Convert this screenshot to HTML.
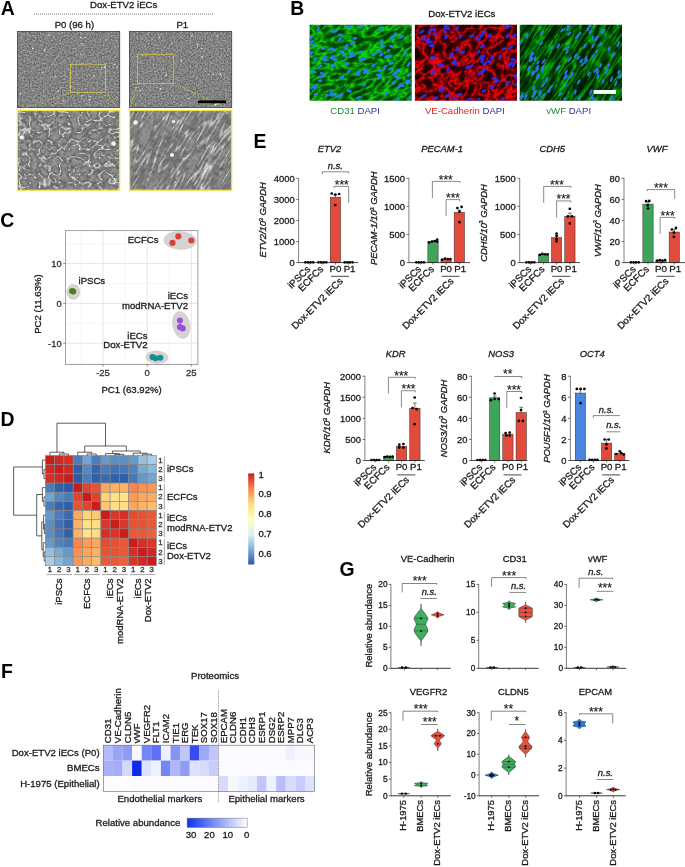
<!DOCTYPE html>
<html><head><meta charset="utf-8"><title>Figure</title>
<style>
html,body{margin:0;padding:0;background:#fff;}
body{width:685px;height:867px;overflow:hidden;}
svg{display:block;font-family:'Liberation Sans', Arial, Helvetica, sans-serif;}
</style></head><body>
<svg width="685" height="867" viewBox="0 0 685 867">
<rect width="685" height="867" fill="#fff"/>
<defs>
<filter id="fFine" x="0" y="0" width="100%" height="100%" color-interpolation-filters="sRGB">
  <feTurbulence type="fractalNoise" baseFrequency="0.62" numOctaves="2" seed="3" result="n"/>
  <feColorMatrix in="n" type="matrix" values="0 0.5 0 0 0.26  0 0.5 0 0 0.26  0 0.5 0 0 0.26  0 0 0 0 1"/>
</filter>
<filter id="fFine2" x="0" y="0" width="100%" height="100%" color-interpolation-filters="sRGB">
  <feTurbulence type="fractalNoise" baseFrequency="0.62" numOctaves="2" seed="11" result="n"/>
  <feColorMatrix in="n" type="matrix" values="0 0.5 0 0 0.26  0 0.5 0 0 0.26  0 0.5 0 0 0.26  0 0 0 0 1"/>
</filter>
<filter id="fCell" x="0" y="0" width="100%" height="100%" color-interpolation-filters="sRGB">
  <feTurbulence type="turbulence" baseFrequency="0.1 0.12" numOctaves="2" seed="5" result="n"/>
  <feColorMatrix in="n" type="matrix" values="0 1 0 0 0  0 1 0 0 0  0 1 0 0 0  0 0 0 0 1" result="g"/>
  <feComponentTransfer in="g" result="lines">
    <feFuncR type="table" tableValues="0.90 0.76 0.62 0.52 0.46 0.44 0.46 0.49 0.52 0.54 0.55 0.55 0.55 0.55 0.55 0.55 0.55 0.55 0.55 0.55 0.55"/><feFuncG type="table" tableValues="0.90 0.76 0.62 0.52 0.46 0.44 0.46 0.49 0.52 0.54 0.55 0.55 0.55 0.55 0.55 0.55 0.55 0.55 0.55 0.55 0.55"/><feFuncB type="table" tableValues="0.90 0.76 0.62 0.52 0.46 0.44 0.46 0.49 0.52 0.54 0.55 0.55 0.55 0.55 0.55 0.55 0.55 0.55 0.55 0.55 0.55"/>
  </feComponentTransfer>
  <feTurbulence type="fractalNoise" baseFrequency="0.3" numOctaves="2" seed="31" result="n2"/>
  <feColorMatrix in="n2" type="matrix" values="0 1 0 0 0  0 1 0 0 0  0 1 0 0 0  0 0 0 0 1" result="grain"/>
  <feComposite in="lines" in2="grain" operator="arithmetic" k1="0" k2="1" k3="0.24" k4="-0.12"/>
</filter>
<filter id="fStreak" x="0" y="0" width="100%" height="100%" color-interpolation-filters="sRGB">
  <feTurbulence type="turbulence" baseFrequency="0.025 0.15" numOctaves="2" seed="9" result="n"/>
  <feColorMatrix in="n" type="matrix" values="0 1 0 0 0  0 1 0 0 0  0 1 0 0 0  0 0 0 0 1" result="g"/>
  <feComponentTransfer in="g" result="lines">
    <feFuncR type="table" tableValues="0.90 0.76 0.62 0.52 0.46 0.44 0.46 0.49 0.52 0.54 0.55 0.55 0.55 0.55 0.55 0.55 0.55 0.55 0.55 0.55 0.55"/><feFuncG type="table" tableValues="0.90 0.76 0.62 0.52 0.46 0.44 0.46 0.49 0.52 0.54 0.55 0.55 0.55 0.55 0.55 0.55 0.55 0.55 0.55 0.55 0.55"/><feFuncB type="table" tableValues="0.90 0.76 0.62 0.52 0.46 0.44 0.46 0.49 0.52 0.54 0.55 0.55 0.55 0.55 0.55 0.55 0.55 0.55 0.55 0.55 0.55"/>
  </feComponentTransfer>
  <feTurbulence type="fractalNoise" baseFrequency="0.3" numOctaves="2" seed="32" result="n2"/>
  <feColorMatrix in="n2" type="matrix" values="0 1 0 0 0  0 1 0 0 0  0 1 0 0 0  0 0 0 0 1" result="grain"/>
  <feComposite in="lines" in2="grain" operator="arithmetic" k1="0" k2="1" k3="0.24" k4="-0.12"/>
</filter>
<clipPath id="cA3"><rect x="17.3" y="110.3" width="102.5" height="80"/></clipPath>
<clipPath id="cA4"><rect x="129.6" y="110.3" width="102.2" height="80"/></clipPath>
</defs>
<text x="0.80" y="14.50" font-size="19.4" font-weight="bold" fill="#000">A</text>
<text x="123.70" y="7.60" font-size="9.6" text-anchor="middle" fill="#1c191a" stroke="#1c191a" stroke-width="0.3">Dox-ETV2 iECs</text>
<line x1="34.00" y1="14.10" x2="213.70" y2="14.10" stroke="#444" stroke-width="0.7" stroke-dasharray="1 1"/>
<text x="74.40" y="28.00" font-size="9.6" text-anchor="middle" fill="#1c191a" stroke="#1c191a" stroke-width="0.3">P0 (96 h)</text>
<text x="182.30" y="28.00" font-size="9.6" text-anchor="middle" fill="#1c191a" stroke="#1c191a" stroke-width="0.3">P1</text>
<rect x="17.30" y="31.30" width="102.50" height="76.10" fill="#8a8a8a" stroke="none" stroke-width="0.7" filter="url(#fFine)"/>
<rect x="17.30" y="31.30" width="102.50" height="76.10" fill="none" stroke="#3a3a3a" stroke-width="0.6"/>
<rect x="129.50" y="31.30" width="102.30" height="76.10" fill="#8a8a8a" stroke="none" stroke-width="0.7" filter="url(#fFine2)"/>
<rect x="129.50" y="31.30" width="102.30" height="76.10" fill="none" stroke="#3a3a3a" stroke-width="0.6"/>
<circle cx="42.74" cy="72.36" r="0.8" fill="#f2f2f2" opacity="0.9"/>
<circle cx="55.74" cy="76.68" r="0.8" fill="#f2f2f2" opacity="0.9"/>
<circle cx="80.93" cy="37.65" r="0.8" fill="#f2f2f2" opacity="0.9"/>
<circle cx="20.60" cy="93.62" r="0.8" fill="#f2f2f2" opacity="0.9"/>
<circle cx="44.85" cy="49.89" r="0.8" fill="#f2f2f2" opacity="0.9"/>
<circle cx="117.37" cy="66.99" r="0.8" fill="#f2f2f2" opacity="0.9"/>
<circle cx="101.69" cy="67.44" r="0.8" fill="#f2f2f2" opacity="0.9"/>
<circle cx="82.25" cy="43.82" r="0.8" fill="#f2f2f2" opacity="0.9"/>
<circle cx="81.83" cy="95.83" r="0.8" fill="#f2f2f2" opacity="0.9"/>
<circle cx="70.83" cy="86.64" r="0.8" fill="#f2f2f2" opacity="0.9"/>
<circle cx="85.43" cy="37.54" r="0.8" fill="#f2f2f2" opacity="0.9"/>
<circle cx="93.99" cy="75.75" r="0.8" fill="#f2f2f2" opacity="0.9"/>
<circle cx="48.97" cy="35.15" r="0.8" fill="#f2f2f2" opacity="0.9"/>
<circle cx="104.55" cy="67.17" r="0.8" fill="#f2f2f2" opacity="0.9"/>
<circle cx="90.10" cy="96.61" r="0.8" fill="#f2f2f2" opacity="0.9"/>
<circle cx="89.64" cy="99.68" r="0.8" fill="#f2f2f2" opacity="0.9"/>
<circle cx="58.20" cy="90.97" r="0.8" fill="#f2f2f2" opacity="0.9"/>
<circle cx="63.10" cy="100.73" r="0.8" fill="#f2f2f2" opacity="0.9"/>
<circle cx="105.87" cy="39.97" r="0.8" fill="#f2f2f2" opacity="0.9"/>
<circle cx="32.69" cy="48.63" r="0.8" fill="#f2f2f2" opacity="0.9"/>
<circle cx="114.40" cy="64.52" r="0.8" fill="#f2f2f2" opacity="0.9"/>
<circle cx="81.02" cy="54.72" r="0.8" fill="#f2f2f2" opacity="0.9"/>
<circle cx="181.41" cy="60.88" r="0.8" fill="#f2f2f2" opacity="0.9"/>
<circle cx="166.06" cy="75.32" r="0.8" fill="#f2f2f2" opacity="0.9"/>
<circle cx="188.97" cy="98.45" r="0.8" fill="#f2f2f2" opacity="0.9"/>
<circle cx="198.57" cy="100.25" r="0.8" fill="#f2f2f2" opacity="0.9"/>
<circle cx="215.70" cy="104.75" r="0.8" fill="#f2f2f2" opacity="0.9"/>
<circle cx="197.52" cy="44.72" r="0.8" fill="#f2f2f2" opacity="0.9"/>
<circle cx="216.11" cy="102.84" r="0.8" fill="#f2f2f2" opacity="0.9"/>
<circle cx="220.44" cy="74.16" r="0.8" fill="#f2f2f2" opacity="0.9"/>
<circle cx="201.70" cy="48.21" r="0.8" fill="#f2f2f2" opacity="0.9"/>
<circle cx="213.26" cy="74.48" r="0.8" fill="#f2f2f2" opacity="0.9"/>
<circle cx="159.58" cy="37.50" r="0.8" fill="#f2f2f2" opacity="0.9"/>
<circle cx="215.46" cy="104.66" r="0.8" fill="#f2f2f2" opacity="0.9"/>
<circle cx="140.29" cy="90.94" r="0.8" fill="#f2f2f2" opacity="0.9"/>
<circle cx="171.91" cy="43.83" r="0.8" fill="#f2f2f2" opacity="0.9"/>
<circle cx="160.46" cy="88.64" r="0.8" fill="#f2f2f2" opacity="0.9"/>
<circle cx="217.31" cy="36.10" r="0.8" fill="#f2f2f2" opacity="0.9"/>
<circle cx="191.95" cy="36.16" r="0.8" fill="#f2f2f2" opacity="0.9"/>
<circle cx="202.15" cy="56.89" r="0.8" fill="#f2f2f2" opacity="0.9"/>
<circle cx="218.10" cy="104.00" r="0.8" fill="#f2f2f2" opacity="0.9"/>
<circle cx="181.23" cy="105.29" r="0.8" fill="#f2f2f2" opacity="0.9"/>
<rect x="70.40" y="64.20" width="35.30" height="28.40" fill="none" stroke="#e6d93c" stroke-width="0.6"/>
<rect x="137.70" y="54.70" width="36.10" height="28.70" fill="none" stroke="#e6d93c" stroke-width="0.6"/>
<line x1="70.40" y1="92.60" x2="17.30" y2="110.30" stroke="#e6d93c" stroke-width="0.6" stroke-dasharray="2 1.2"/>
<line x1="105.70" y1="92.60" x2="119.80" y2="110.30" stroke="#e6d93c" stroke-width="0.6" stroke-dasharray="2 1.2"/>
<line x1="137.70" y1="83.40" x2="129.60" y2="110.30" stroke="#e6d93c" stroke-width="0.6" stroke-dasharray="2 1.2"/>
<line x1="173.80" y1="83.40" x2="231.80" y2="110.30" stroke="#e6d93c" stroke-width="0.6" stroke-dasharray="2 1.2"/>
<rect x="198.00" y="100.40" width="28.00" height="2.80" fill="#000" stroke="none" stroke-width="0.7"/>
<g clip-path="url(#cA3)">
<rect x="17.30" y="110.30" width="102.50" height="80.00" fill="#8a8a8a" stroke="none" stroke-width="0.7" filter="url(#fCell)"/>
<circle cx="21.50" cy="137.50" r="2.0" fill="#f4f4f4"/>
<circle cx="113.50" cy="143.50" r="2.2" fill="#f4f4f4"/>
</g>
<g clip-path="url(#cA4)">
<g transform="rotate(-60 180.7 150.3)">
<rect x="100.00" y="70.00" width="170.00" height="170.00" fill="#8a8a8a" stroke="none" stroke-width="0.7" filter="url(#fStreak)"/>
</g>
<circle cx="135.50" cy="122.50" r="2.3" fill="#f4f4f4"/>
<circle cx="173.50" cy="121.50" r="1.6" fill="#f4f4f4"/>
<circle cx="172.00" cy="155.00" r="2.0" fill="#f4f4f4"/>
</g>
<rect x="17.40" y="110.50" width="102.30" height="79.70" fill="none" stroke="#f2e340" stroke-width="1.2"/>
<rect x="129.60" y="110.50" width="102.10" height="79.70" fill="none" stroke="#f2e340" stroke-width="1.2"/>
<defs>
<filter id="fG1" x="0" y="0" width="100%" height="100%" color-interpolation-filters="sRGB">
  <feTurbulence type="turbulence" baseFrequency="0.08 0.17" numOctaves="3" seed="21" result="n"/>
  <feColorMatrix in="n" type="matrix" values="0 1 0 0 0  0 1 0 0 0  0 1 0 0 0  0 0 0 0 1" result="g"/>
  <feComponentTransfer in="g" result="t">
    <feFuncR type="table" tableValues="1.00 0.92 0.82 0.72 0.62 0.54 0.47 0.41 0.36 0.32 0.28 0.24 0.24 0.24 0.24 0.24 0.24 0.24 0.24 0.24 0.24"/><feFuncG type="table" tableValues="1.00 0.92 0.82 0.72 0.62 0.54 0.47 0.41 0.36 0.32 0.28 0.24 0.24 0.24 0.24 0.24 0.24 0.24 0.24 0.24 0.24"/><feFuncB type="table" tableValues="1.00 0.92 0.82 0.72 0.62 0.54 0.47 0.41 0.36 0.32 0.28 0.24 0.24 0.24 0.24 0.24 0.24 0.24 0.24 0.24 0.24"/>
  </feComponentTransfer>
  <feColorMatrix in="t" type="matrix" values="0.06 0 0 0 0  0 1 0 0 0  0.07 0 0 0 0  0 0 0 0 1"/>
</filter>
<filter id="fR1" x="0" y="0" width="100%" height="100%" color-interpolation-filters="sRGB">
  <feTurbulence type="turbulence" baseFrequency="0.1 0.13" numOctaves="3" seed="4" result="n"/>
  <feColorMatrix in="n" type="matrix" values="0 1 0 0 0  0 1 0 0 0  0 1 0 0 0  0 0 0 0 1" result="g"/>
  <feComponentTransfer in="g" result="t">
    <feFuncR type="table" tableValues="1.00 0.99 0.92 0.80 0.64 0.50 0.39 0.31 0.25 0.20 0.17 0.13 0.13 0.13 0.13 0.13 0.13 0.13 0.13 0.13 0.13"/><feFuncG type="table" tableValues="1.00 0.99 0.92 0.80 0.64 0.50 0.39 0.31 0.25 0.20 0.17 0.13 0.13 0.13 0.13 0.13 0.13 0.13 0.13 0.13 0.13"/><feFuncB type="table" tableValues="1.00 0.99 0.92 0.80 0.64 0.50 0.39 0.31 0.25 0.20 0.17 0.13 0.13 0.13 0.13 0.13 0.13 0.13 0.13 0.13 0.13"/>
  </feComponentTransfer>
  <feColorMatrix in="t" type="matrix" values="1 0 0 0 0  0.02 0 0 0 0  0.05 0 0 0 0  0 0 0 0 1"/>
</filter>
<filter id="fG2" x="0" y="0" width="100%" height="100%" color-interpolation-filters="sRGB">
  <feTurbulence type="turbulence" baseFrequency="0.035 0.22" numOctaves="3" seed="8" result="n"/>
  <feColorMatrix in="n" type="matrix" values="0 1 0 0 0  0 1 0 0 0  0 1 0 0 0  0 0 0 0 1" result="g"/>
  <feComponentTransfer in="g" result="t">
    <feFuncR type="table" tableValues="0.92 0.78 0.64 0.51 0.41 0.33 0.27 0.22 0.18 0.15 0.13 0.11 0.11 0.11 0.11 0.11 0.11 0.11 0.11 0.11 0.11"/><feFuncG type="table" tableValues="0.92 0.78 0.64 0.51 0.41 0.33 0.27 0.22 0.18 0.15 0.13 0.11 0.11 0.11 0.11 0.11 0.11 0.11 0.11 0.11 0.11"/><feFuncB type="table" tableValues="0.92 0.78 0.64 0.51 0.41 0.33 0.27 0.22 0.18 0.15 0.13 0.11 0.11 0.11 0.11 0.11 0.11 0.11 0.11 0.11 0.11"/>
  </feComponentTransfer>
  <feColorMatrix in="t" type="matrix" values="0.04 0 0 0 0  0 1 0 0 0  0.06 0 0 0 0  0 0 0 0 1"/>
</filter>
<clipPath id="cB1"><rect x="309.6" y="24.7" width="102.1" height="76.1"/></clipPath>
<clipPath id="cB2"><rect x="414.9" y="24.7" width="102.1" height="76.1"/></clipPath>
<clipPath id="cB3"><rect x="519.7" y="24.7" width="102.3" height="76.1"/></clipPath>
</defs>
<text x="290.30" y="14.50" font-size="19.4" font-weight="bold" fill="#000">B</text>
<text x="461.80" y="16.80" font-size="9.6" text-anchor="middle" fill="#1c191a" stroke="#1c191a" stroke-width="0.3">Dox-ETV2 iECs</text>
<g clip-path="url(#cB1)">
<g transform="rotate(-25 360.6 62.7)">
<rect x="280.00" y="-20.00" width="170.00" height="170.00" fill="#1f8f3a" stroke="none" stroke-width="0.7" filter="url(#fG1)"/>
</g>
<ellipse cx="358.1" cy="74.7" rx="2.31" ry="1.40" fill="#2480f5" opacity="0.92" transform="rotate(-5 358.1 74.7)"/>
<ellipse cx="310.7" cy="53.2" rx="3.04" ry="1.40" fill="#2480f5" opacity="0.92" transform="rotate(-40 310.7 53.2)"/>
<ellipse cx="380.1" cy="70.5" rx="2.87" ry="1.40" fill="#2480f5" opacity="0.92" transform="rotate(-15 380.1 70.5)"/>
<ellipse cx="324.4" cy="58.2" rx="3.14" ry="1.40" fill="#2480f5" opacity="0.92" transform="rotate(-50 324.4 58.2)"/>
<ellipse cx="315.6" cy="87.0" rx="2.90" ry="1.40" fill="#2480f5" opacity="0.92" transform="rotate(-58 315.6 87.0)"/>
<ellipse cx="344.0" cy="55.5" rx="2.18" ry="1.40" fill="#2480f5" opacity="0.92" transform="rotate(11 344.0 55.5)"/>
<ellipse cx="315.8" cy="94.3" rx="2.26" ry="1.40" fill="#2480f5" opacity="0.92" transform="rotate(-19 315.8 94.3)"/>
<ellipse cx="410.4" cy="96.7" rx="2.62" ry="1.40" fill="#2480f5" opacity="0.92" transform="rotate(-55 410.4 96.7)"/>
<ellipse cx="323.4" cy="48.5" rx="2.34" ry="1.40" fill="#2480f5" opacity="0.92" transform="rotate(-9 323.4 48.5)"/>
<ellipse cx="380.7" cy="28.6" rx="3.04" ry="1.40" fill="#2480f5" opacity="0.92" transform="rotate(-50 380.7 28.6)"/>
<ellipse cx="350.5" cy="56.6" rx="2.67" ry="1.40" fill="#2480f5" opacity="0.92" transform="rotate(-11 350.5 56.6)"/>
<ellipse cx="348.9" cy="27.0" rx="3.20" ry="1.40" fill="#2480f5" opacity="0.92" transform="rotate(0 348.9 27.0)"/>
<ellipse cx="409.3" cy="75.2" rx="2.55" ry="1.40" fill="#2480f5" opacity="0.92" transform="rotate(-33 409.3 75.2)"/>
<ellipse cx="380.1" cy="76.0" rx="2.41" ry="1.40" fill="#2480f5" opacity="0.92" transform="rotate(-55 380.1 76.0)"/>
<ellipse cx="346.7" cy="63.6" rx="2.70" ry="1.40" fill="#2480f5" opacity="0.92" transform="rotate(8 346.7 63.6)"/>
<ellipse cx="312.5" cy="87.3" rx="2.72" ry="1.40" fill="#2480f5" opacity="0.92" transform="rotate(-26 312.5 87.3)"/>
<ellipse cx="332.3" cy="57.2" rx="2.99" ry="1.40" fill="#2480f5" opacity="0.92" transform="rotate(-30 332.3 57.2)"/>
<ellipse cx="320.1" cy="66.6" rx="2.91" ry="1.40" fill="#2480f5" opacity="0.92" transform="rotate(-49 320.1 66.6)"/>
<ellipse cx="313.4" cy="45.7" rx="2.85" ry="1.40" fill="#2480f5" opacity="0.92" transform="rotate(-34 313.4 45.7)"/>
<ellipse cx="314.9" cy="59.6" rx="2.46" ry="1.40" fill="#2480f5" opacity="0.92" transform="rotate(-46 314.9 59.6)"/>
<ellipse cx="358.2" cy="97.7" rx="3.19" ry="1.40" fill="#2480f5" opacity="0.92" transform="rotate(-22 358.2 97.7)"/>
<ellipse cx="326.7" cy="95.0" rx="2.36" ry="1.40" fill="#2480f5" opacity="0.92" transform="rotate(-32 326.7 95.0)"/>
<ellipse cx="386.0" cy="94.1" rx="2.45" ry="1.40" fill="#2480f5" opacity="0.92" transform="rotate(-64 386.0 94.1)"/>
<ellipse cx="388.3" cy="50.7" rx="2.17" ry="1.40" fill="#2480f5" opacity="0.92" transform="rotate(-43 388.3 50.7)"/>
<ellipse cx="313.7" cy="71.8" rx="3.24" ry="1.40" fill="#2480f5" opacity="0.92" transform="rotate(24 313.7 71.8)"/>
<ellipse cx="361.0" cy="26.5" rx="3.01" ry="1.40" fill="#2480f5" opacity="0.92" transform="rotate(-36 361.0 26.5)"/>
<ellipse cx="394.5" cy="73.4" rx="2.73" ry="1.40" fill="#2480f5" opacity="0.92" transform="rotate(-44 394.5 73.4)"/>
<ellipse cx="358.3" cy="72.4" rx="3.18" ry="1.40" fill="#2480f5" opacity="0.92" transform="rotate(-41 358.3 72.4)"/>
<ellipse cx="400.9" cy="37.0" rx="3.10" ry="1.40" fill="#2480f5" opacity="0.92" transform="rotate(-39 400.9 37.0)"/>
<ellipse cx="338.0" cy="96.5" rx="2.91" ry="1.40" fill="#2480f5" opacity="0.92" transform="rotate(-19 338.0 96.5)"/>
<ellipse cx="381.5" cy="41.0" rx="2.44" ry="1.40" fill="#2480f5" opacity="0.92" transform="rotate(-39 381.5 41.0)"/>
<ellipse cx="379.4" cy="77.5" rx="3.12" ry="1.40" fill="#2480f5" opacity="0.92" transform="rotate(-53 379.4 77.5)"/>
<ellipse cx="352.5" cy="43.1" rx="3.22" ry="1.40" fill="#2480f5" opacity="0.92" transform="rotate(-26 352.5 43.1)"/>
<ellipse cx="366.8" cy="72.2" rx="3.20" ry="1.40" fill="#2480f5" opacity="0.92" transform="rotate(18 366.8 72.2)"/>
<ellipse cx="387.2" cy="56.5" rx="3.13" ry="1.40" fill="#2480f5" opacity="0.92" transform="rotate(-12 387.2 56.5)"/>
<ellipse cx="390.2" cy="68.9" rx="2.56" ry="1.40" fill="#2480f5" opacity="0.92" transform="rotate(-34 390.2 68.9)"/>
<ellipse cx="384.7" cy="67.6" rx="2.93" ry="1.40" fill="#2480f5" opacity="0.92" transform="rotate(-63 384.7 67.6)"/>
<ellipse cx="401.9" cy="85.4" rx="3.14" ry="1.40" fill="#2480f5" opacity="0.92" transform="rotate(16 401.9 85.4)"/>
<ellipse cx="364.2" cy="84.8" rx="2.27" ry="1.40" fill="#2480f5" opacity="0.92" transform="rotate(-31 364.2 84.8)"/>
<ellipse cx="345.7" cy="48.5" rx="2.90" ry="1.40" fill="#2480f5" opacity="0.92" transform="rotate(19 345.7 48.5)"/>
<ellipse cx="364.9" cy="72.0" rx="2.74" ry="1.40" fill="#2480f5" opacity="0.92" transform="rotate(-54 364.9 72.0)"/>
<ellipse cx="381.1" cy="54.7" rx="2.60" ry="1.40" fill="#2480f5" opacity="0.92" transform="rotate(-43 381.1 54.7)"/>
<ellipse cx="342.6" cy="76.8" rx="2.26" ry="1.40" fill="#2480f5" opacity="0.92" transform="rotate(-52 342.6 76.8)"/>
<ellipse cx="341.5" cy="77.6" rx="2.87" ry="1.40" fill="#2480f5" opacity="0.92" transform="rotate(3 341.5 77.6)"/>
<ellipse cx="405.0" cy="52.5" rx="2.69" ry="1.40" fill="#2480f5" opacity="0.92" transform="rotate(-62 405.0 52.5)"/>
<ellipse cx="354.9" cy="38.4" rx="2.53" ry="1.40" fill="#2480f5" opacity="0.92" transform="rotate(-5 354.9 38.4)"/>
<ellipse cx="333.9" cy="49.6" rx="2.17" ry="1.40" fill="#2480f5" opacity="0.92" transform="rotate(20 333.9 49.6)"/>
<ellipse cx="346.4" cy="46.0" rx="2.63" ry="1.40" fill="#2480f5" opacity="0.92" transform="rotate(-47 346.4 46.0)"/>
<ellipse cx="332.1" cy="94.6" rx="2.91" ry="1.40" fill="#2480f5" opacity="0.92" transform="rotate(-20 332.1 94.6)"/>
<ellipse cx="326.2" cy="60.1" rx="3.07" ry="1.40" fill="#2480f5" opacity="0.92" transform="rotate(-10 326.2 60.1)"/>
<ellipse cx="335.1" cy="59.7" rx="3.06" ry="1.40" fill="#2480f5" opacity="0.92" transform="rotate(12 335.1 59.7)"/>
<ellipse cx="332.8" cy="65.6" rx="2.59" ry="1.40" fill="#2480f5" opacity="0.92" transform="rotate(4 332.8 65.6)"/>
<ellipse cx="378.4" cy="75.2" rx="2.76" ry="1.40" fill="#2480f5" opacity="0.92" transform="rotate(23 378.4 75.2)"/>
<ellipse cx="379.1" cy="51.4" rx="2.51" ry="1.40" fill="#2480f5" opacity="0.92" transform="rotate(1 379.1 51.4)"/>
<ellipse cx="360.6" cy="52.2" rx="2.31" ry="1.40" fill="#2480f5" opacity="0.92" transform="rotate(-37 360.6 52.2)"/>
<ellipse cx="332.6" cy="66.1" rx="2.21" ry="1.40" fill="#2480f5" opacity="0.92" transform="rotate(-42 332.6 66.1)"/>
<ellipse cx="391.6" cy="46.4" rx="2.81" ry="1.40" fill="#2480f5" opacity="0.92" transform="rotate(19 391.6 46.4)"/>
<ellipse cx="349.3" cy="91.1" rx="2.51" ry="1.40" fill="#2480f5" opacity="0.92" transform="rotate(16 349.3 91.1)"/>
<ellipse cx="322.4" cy="73.5" rx="2.82" ry="1.40" fill="#2480f5" opacity="0.92" transform="rotate(11 322.4 73.5)"/>
<ellipse cx="389.7" cy="56.1" rx="2.44" ry="1.40" fill="#2480f5" opacity="0.92" transform="rotate(-9 389.7 56.1)"/>
<ellipse cx="351.1" cy="53.6" rx="2.59" ry="1.40" fill="#2480f5" opacity="0.92" transform="rotate(-30 351.1 53.6)"/>
<ellipse cx="392.0" cy="37.6" rx="2.44" ry="1.40" fill="#2480f5" opacity="0.92" transform="rotate(-47 392.0 37.6)"/>
<ellipse cx="408.7" cy="64.5" rx="3.06" ry="1.40" fill="#2480f5" opacity="0.92" transform="rotate(-60 408.7 64.5)"/>
<ellipse cx="398.8" cy="87.2" rx="2.95" ry="1.40" fill="#2480f5" opacity="0.92" transform="rotate(-33 398.8 87.2)"/>
<ellipse cx="340.8" cy="35.1" rx="3.06" ry="1.40" fill="#2480f5" opacity="0.92" transform="rotate(13 340.8 35.1)"/>
<ellipse cx="331.2" cy="91.7" rx="2.49" ry="1.40" fill="#2480f5" opacity="0.92" transform="rotate(-63 331.2 91.7)"/>
<ellipse cx="310.9" cy="37.7" rx="2.93" ry="1.40" fill="#2480f5" opacity="0.92" transform="rotate(-50 310.9 37.7)"/>
<ellipse cx="339.9" cy="39.2" rx="2.50" ry="1.40" fill="#2480f5" opacity="0.92" transform="rotate(-48 339.9 39.2)"/>
<ellipse cx="397.6" cy="70.9" rx="2.90" ry="1.40" fill="#2480f5" opacity="0.92" transform="rotate(-56 397.6 70.9)"/>
<ellipse cx="364.4" cy="58.8" rx="2.86" ry="1.40" fill="#2480f5" opacity="0.92" transform="rotate(-18 364.4 58.8)"/>
<ellipse cx="391.4" cy="63.2" rx="2.66" ry="1.40" fill="#2480f5" opacity="0.92" transform="rotate(-8 391.4 63.2)"/>
<ellipse cx="374.3" cy="54.3" rx="2.72" ry="1.40" fill="#2480f5" opacity="0.92" transform="rotate(-28 374.3 54.3)"/>
<ellipse cx="382.6" cy="45.9" rx="2.69" ry="1.40" fill="#2480f5" opacity="0.92" transform="rotate(18 382.6 45.9)"/>
<ellipse cx="396.9" cy="77.2" rx="2.90" ry="1.40" fill="#2480f5" opacity="0.92" transform="rotate(21 396.9 77.2)"/>
<ellipse cx="353.2" cy="55.6" rx="2.97" ry="1.40" fill="#2480f5" opacity="0.92" transform="rotate(-10 353.2 55.6)"/>
<ellipse cx="395.3" cy="34.5" rx="2.28" ry="1.40" fill="#2480f5" opacity="0.92" transform="rotate(-59 395.3 34.5)"/>
<ellipse cx="318.2" cy="29.0" rx="2.43" ry="1.40" fill="#2480f5" opacity="0.92" transform="rotate(-64 318.2 29.0)"/>
<ellipse cx="321.2" cy="76.8" rx="3.20" ry="1.40" fill="#2480f5" opacity="0.92" transform="rotate(-10 321.2 76.8)"/>
<ellipse cx="407.7" cy="81.5" rx="2.19" ry="1.40" fill="#2480f5" opacity="0.92" transform="rotate(20 407.7 81.5)"/>
<ellipse cx="332.9" cy="95.2" rx="2.38" ry="1.40" fill="#2480f5" opacity="0.92" transform="rotate(-22 332.9 95.2)"/>
<ellipse cx="386.9" cy="56.9" rx="2.50" ry="1.40" fill="#2480f5" opacity="0.92" transform="rotate(-16 386.9 56.9)"/>
<ellipse cx="334.3" cy="31.3" rx="3.19" ry="1.40" fill="#2480f5" opacity="0.92" transform="rotate(-10 334.3 31.3)"/>
<ellipse cx="410.3" cy="82.9" rx="2.55" ry="1.40" fill="#2480f5" opacity="0.92" transform="rotate(19 410.3 82.9)"/>
<ellipse cx="340.0" cy="95.0" rx="2.88" ry="1.40" fill="#2480f5" opacity="0.92" transform="rotate(-11 340.0 95.0)"/>
<ellipse cx="310.9" cy="42.1" rx="2.95" ry="1.40" fill="#2480f5" opacity="0.92" transform="rotate(-22 310.9 42.1)"/>
<ellipse cx="393.9" cy="82.3" rx="2.57" ry="1.40" fill="#2480f5" opacity="0.92" transform="rotate(-34 393.9 82.3)"/>
<ellipse cx="397.6" cy="100.0" rx="2.37" ry="1.40" fill="#2480f5" opacity="0.92" transform="rotate(-21 397.6 100.0)"/>
<ellipse cx="373.4" cy="65.5" rx="2.41" ry="1.40" fill="#2480f5" opacity="0.92" transform="rotate(-32 373.4 65.5)"/>
<ellipse cx="348.9" cy="71.3" rx="2.74" ry="1.40" fill="#2480f5" opacity="0.92" transform="rotate(-54 348.9 71.3)"/>
<ellipse cx="406.8" cy="81.4" rx="2.61" ry="1.40" fill="#2480f5" opacity="0.92" transform="rotate(-42 406.8 81.4)"/>
<ellipse cx="320.0" cy="80.8" rx="2.35" ry="1.40" fill="#2480f5" opacity="0.92" transform="rotate(-8 320.0 80.8)"/>
<ellipse cx="365.6" cy="70.0" rx="2.57" ry="1.40" fill="#2480f5" opacity="0.92" transform="rotate(-13 365.6 70.0)"/>
<ellipse cx="341.2" cy="51.7" rx="2.52" ry="1.40" fill="#2480f5" opacity="0.92" transform="rotate(25 341.2 51.7)"/>
<ellipse cx="360.9" cy="59.7" rx="2.59" ry="1.40" fill="#2480f5" opacity="0.92" transform="rotate(-49 360.9 59.7)"/>
<ellipse cx="330.5" cy="49.2" rx="2.54" ry="1.40" fill="#2480f5" opacity="0.92" transform="rotate(-32 330.5 49.2)"/>
</g>
<g clip-path="url(#cB2)">
<g transform="rotate(-40 466 62.7)">
<rect x="380.00" y="-25.00" width="175.00" height="175.00" fill="#a0101c" stroke="none" stroke-width="0.7" filter="url(#fR1)"/>
</g>
<ellipse cx="510.7" cy="47.3" rx="2.98" ry="1.50" fill="#2a2cf0" opacity="0.92" transform="rotate(-47 510.7 47.3)"/>
<ellipse cx="455.5" cy="63.9" rx="2.32" ry="1.50" fill="#2a2cf0" opacity="0.92" transform="rotate(-25 455.5 63.9)"/>
<ellipse cx="483.5" cy="32.4" rx="3.15" ry="1.50" fill="#2a2cf0" opacity="0.92" transform="rotate(-52 483.5 32.4)"/>
<ellipse cx="515.9" cy="76.0" rx="2.73" ry="1.50" fill="#2a2cf0" opacity="0.92" transform="rotate(-58 515.9 76.0)"/>
<ellipse cx="443.8" cy="88.7" rx="2.46" ry="1.50" fill="#2a2cf0" opacity="0.92" transform="rotate(-54 443.8 88.7)"/>
<ellipse cx="480.0" cy="73.2" rx="2.78" ry="1.50" fill="#2a2cf0" opacity="0.92" transform="rotate(-29 480.0 73.2)"/>
<ellipse cx="512.8" cy="59.6" rx="2.68" ry="1.50" fill="#2a2cf0" opacity="0.92" transform="rotate(-4 512.8 59.6)"/>
<ellipse cx="462.4" cy="52.1" rx="3.08" ry="1.50" fill="#2a2cf0" opacity="0.92" transform="rotate(-20 462.4 52.1)"/>
<ellipse cx="439.3" cy="64.7" rx="2.80" ry="1.50" fill="#2a2cf0" opacity="0.92" transform="rotate(-19 439.3 64.7)"/>
<ellipse cx="482.5" cy="71.6" rx="2.64" ry="1.50" fill="#2a2cf0" opacity="0.92" transform="rotate(-20 482.5 71.6)"/>
<ellipse cx="446.2" cy="26.6" rx="3.12" ry="1.50" fill="#2a2cf0" opacity="0.92" transform="rotate(-8 446.2 26.6)"/>
<ellipse cx="454.7" cy="98.3" rx="2.41" ry="1.50" fill="#2a2cf0" opacity="0.92" transform="rotate(-7 454.7 98.3)"/>
<ellipse cx="500.3" cy="56.7" rx="2.53" ry="1.50" fill="#2a2cf0" opacity="0.92" transform="rotate(-48 500.3 56.7)"/>
<ellipse cx="457.2" cy="28.6" rx="2.37" ry="1.50" fill="#2a2cf0" opacity="0.92" transform="rotate(-66 457.2 28.6)"/>
<ellipse cx="446.3" cy="36.8" rx="3.17" ry="1.50" fill="#2a2cf0" opacity="0.92" transform="rotate(-61 446.3 36.8)"/>
<ellipse cx="453.7" cy="62.0" rx="3.28" ry="1.50" fill="#2a2cf0" opacity="0.92" transform="rotate(-28 453.7 62.0)"/>
<ellipse cx="429.8" cy="42.1" rx="3.26" ry="1.50" fill="#2a2cf0" opacity="0.92" transform="rotate(-10 429.8 42.1)"/>
<ellipse cx="510.0" cy="64.9" rx="2.45" ry="1.50" fill="#2a2cf0" opacity="0.92" transform="rotate(-44 510.0 64.9)"/>
<ellipse cx="507.9" cy="82.9" rx="3.13" ry="1.50" fill="#2a2cf0" opacity="0.92" transform="rotate(-31 507.9 82.9)"/>
<ellipse cx="441.5" cy="65.3" rx="2.36" ry="1.50" fill="#2a2cf0" opacity="0.92" transform="rotate(-7 441.5 65.3)"/>
<ellipse cx="477.9" cy="38.8" rx="3.18" ry="1.50" fill="#2a2cf0" opacity="0.92" transform="rotate(-11 477.9 38.8)"/>
<ellipse cx="480.7" cy="57.9" rx="2.79" ry="1.50" fill="#2a2cf0" opacity="0.92" transform="rotate(-68 480.7 57.9)"/>
<ellipse cx="451.6" cy="55.2" rx="3.27" ry="1.50" fill="#2a2cf0" opacity="0.92" transform="rotate(-65 451.6 55.2)"/>
<ellipse cx="468.2" cy="67.4" rx="3.24" ry="1.50" fill="#2a2cf0" opacity="0.92" transform="rotate(-11 468.2 67.4)"/>
<ellipse cx="471.0" cy="66.1" rx="2.66" ry="1.50" fill="#2a2cf0" opacity="0.92" transform="rotate(-11 471.0 66.1)"/>
<ellipse cx="506.8" cy="26.6" rx="2.83" ry="1.50" fill="#2a2cf0" opacity="0.92" transform="rotate(-14 506.8 26.6)"/>
<ellipse cx="478.4" cy="100.1" rx="2.70" ry="1.50" fill="#2a2cf0" opacity="0.92" transform="rotate(-55 478.4 100.1)"/>
<ellipse cx="496.5" cy="81.5" rx="3.11" ry="1.50" fill="#2a2cf0" opacity="0.92" transform="rotate(-33 496.5 81.5)"/>
<ellipse cx="484.0" cy="90.8" rx="2.65" ry="1.50" fill="#2a2cf0" opacity="0.92" transform="rotate(-24 484.0 90.8)"/>
<ellipse cx="444.2" cy="30.9" rx="2.29" ry="1.50" fill="#2a2cf0" opacity="0.92" transform="rotate(-61 444.2 30.9)"/>
<ellipse cx="514.5" cy="35.4" rx="2.39" ry="1.50" fill="#2a2cf0" opacity="0.92" transform="rotate(-28 514.5 35.4)"/>
<ellipse cx="513.5" cy="65.2" rx="3.17" ry="1.50" fill="#2a2cf0" opacity="0.92" transform="rotate(-58 513.5 65.2)"/>
<ellipse cx="502.7" cy="99.1" rx="2.69" ry="1.50" fill="#2a2cf0" opacity="0.92" transform="rotate(-54 502.7 99.1)"/>
<ellipse cx="482.4" cy="46.2" rx="3.03" ry="1.50" fill="#2a2cf0" opacity="0.92" transform="rotate(-30 482.4 46.2)"/>
<ellipse cx="491.6" cy="87.4" rx="2.56" ry="1.50" fill="#2a2cf0" opacity="0.92" transform="rotate(-17 491.6 87.4)"/>
<ellipse cx="492.0" cy="57.7" rx="2.26" ry="1.50" fill="#2a2cf0" opacity="0.92" transform="rotate(-58 492.0 57.7)"/>
<ellipse cx="478.4" cy="51.9" rx="2.79" ry="1.50" fill="#2a2cf0" opacity="0.92" transform="rotate(-63 478.4 51.9)"/>
<ellipse cx="457.3" cy="49.5" rx="2.84" ry="1.50" fill="#2a2cf0" opacity="0.92" transform="rotate(-30 457.3 49.5)"/>
<ellipse cx="469.0" cy="99.8" rx="2.57" ry="1.50" fill="#2a2cf0" opacity="0.92" transform="rotate(-7 469.0 99.8)"/>
<ellipse cx="503.9" cy="48.7" rx="2.30" ry="1.50" fill="#2a2cf0" opacity="0.92" transform="rotate(-4 503.9 48.7)"/>
<ellipse cx="447.4" cy="95.6" rx="3.03" ry="1.50" fill="#2a2cf0" opacity="0.92" transform="rotate(-24 447.4 95.6)"/>
<ellipse cx="435.8" cy="34.0" rx="2.31" ry="1.50" fill="#2a2cf0" opacity="0.92" transform="rotate(-3 435.8 34.0)"/>
<ellipse cx="432.8" cy="57.5" rx="3.00" ry="1.50" fill="#2a2cf0" opacity="0.92" transform="rotate(-13 432.8 57.5)"/>
<ellipse cx="516.8" cy="84.0" rx="3.26" ry="1.50" fill="#2a2cf0" opacity="0.92" transform="rotate(-39 516.8 84.0)"/>
<ellipse cx="447.2" cy="28.6" rx="3.23" ry="1.50" fill="#2a2cf0" opacity="0.92" transform="rotate(-3 447.2 28.6)"/>
<ellipse cx="482.3" cy="61.2" rx="2.49" ry="1.50" fill="#2a2cf0" opacity="0.92" transform="rotate(-56 482.3 61.2)"/>
<ellipse cx="421.8" cy="31.8" rx="3.24" ry="1.50" fill="#2a2cf0" opacity="0.92" transform="rotate(-36 421.8 31.8)"/>
<ellipse cx="510.1" cy="63.8" rx="2.76" ry="1.50" fill="#2a2cf0" opacity="0.92" transform="rotate(-23 510.1 63.8)"/>
<ellipse cx="494.1" cy="78.4" rx="3.19" ry="1.50" fill="#2a2cf0" opacity="0.92" transform="rotate(-1 494.1 78.4)"/>
<ellipse cx="484.1" cy="69.6" rx="2.77" ry="1.50" fill="#2a2cf0" opacity="0.92" transform="rotate(-58 484.1 69.6)"/>
<ellipse cx="460.6" cy="36.4" rx="2.70" ry="1.50" fill="#2a2cf0" opacity="0.92" transform="rotate(-56 460.6 36.4)"/>
<ellipse cx="432.9" cy="72.2" rx="3.35" ry="1.50" fill="#2a2cf0" opacity="0.92" transform="rotate(-47 432.9 72.2)"/>
<ellipse cx="484.7" cy="64.0" rx="2.68" ry="1.50" fill="#2a2cf0" opacity="0.92" transform="rotate(-40 484.7 64.0)"/>
<ellipse cx="435.4" cy="98.0" rx="2.97" ry="1.50" fill="#2a2cf0" opacity="0.92" transform="rotate(-6 435.4 98.0)"/>
<ellipse cx="481.3" cy="35.7" rx="2.43" ry="1.50" fill="#2a2cf0" opacity="0.92" transform="rotate(-32 481.3 35.7)"/>
<ellipse cx="448.0" cy="69.4" rx="2.50" ry="1.50" fill="#2a2cf0" opacity="0.92" transform="rotate(-58 448.0 69.4)"/>
<ellipse cx="489.5" cy="61.6" rx="2.42" ry="1.50" fill="#2a2cf0" opacity="0.92" transform="rotate(-8 489.5 61.6)"/>
<ellipse cx="423.9" cy="96.1" rx="3.02" ry="1.50" fill="#2a2cf0" opacity="0.92" transform="rotate(-27 423.9 96.1)"/>
<ellipse cx="471.7" cy="36.0" rx="2.79" ry="1.50" fill="#2a2cf0" opacity="0.92" transform="rotate(-2 471.7 36.0)"/>
<ellipse cx="507.7" cy="35.8" rx="2.85" ry="1.50" fill="#2a2cf0" opacity="0.92" transform="rotate(-51 507.7 35.8)"/>
<ellipse cx="440.2" cy="90.1" rx="2.33" ry="1.50" fill="#2a2cf0" opacity="0.92" transform="rotate(-52 440.2 90.1)"/>
<ellipse cx="431.5" cy="45.4" rx="3.22" ry="1.50" fill="#2a2cf0" opacity="0.92" transform="rotate(-4 431.5 45.4)"/>
<ellipse cx="483.3" cy="57.2" rx="3.17" ry="1.50" fill="#2a2cf0" opacity="0.92" transform="rotate(-67 483.3 57.2)"/>
<ellipse cx="427.8" cy="39.9" rx="3.21" ry="1.50" fill="#2a2cf0" opacity="0.92" transform="rotate(-40 427.8 39.9)"/>
<ellipse cx="433.6" cy="29.5" rx="2.25" ry="1.50" fill="#2a2cf0" opacity="0.92" transform="rotate(-6 433.6 29.5)"/>
<ellipse cx="489.9" cy="35.4" rx="2.47" ry="1.50" fill="#2a2cf0" opacity="0.92" transform="rotate(-49 489.9 35.4)"/>
<ellipse cx="459.7" cy="94.8" rx="2.84" ry="1.50" fill="#2a2cf0" opacity="0.92" transform="rotate(-11 459.7 94.8)"/>
<ellipse cx="423.9" cy="38.1" rx="3.13" ry="1.50" fill="#2a2cf0" opacity="0.92" transform="rotate(-49 423.9 38.1)"/>
<ellipse cx="508.4" cy="26.6" rx="3.32" ry="1.50" fill="#2a2cf0" opacity="0.92" transform="rotate(-47 508.4 26.6)"/>
<ellipse cx="430.3" cy="30.8" rx="3.24" ry="1.50" fill="#2a2cf0" opacity="0.92" transform="rotate(-51 430.3 30.8)"/>
</g>
<g clip-path="url(#cB3)">
<g transform="rotate(-58 570.8 62.7)">
<rect x="485.00" y="-25.00" width="175.00" height="175.00" fill="#1f8f3a" stroke="none" stroke-width="0.7" filter="url(#fG2)"/>
</g>
<ellipse cx="546.6" cy="79.6" rx="3.08" ry="1.20" fill="#2a7cf2" opacity="0.92" transform="rotate(-69 546.6 79.6)"/>
<ellipse cx="537.0" cy="70.0" rx="3.34" ry="1.20" fill="#2a7cf2" opacity="0.92" transform="rotate(-51 537.0 70.0)"/>
<ellipse cx="564.3" cy="99.6" rx="3.42" ry="1.20" fill="#2a7cf2" opacity="0.92" transform="rotate(-61 564.3 99.6)"/>
<ellipse cx="613.2" cy="100.7" rx="2.64" ry="1.20" fill="#2a7cf2" opacity="0.92" transform="rotate(-70 613.2 100.7)"/>
<ellipse cx="590.9" cy="92.1" rx="3.21" ry="1.20" fill="#2a7cf2" opacity="0.92" transform="rotate(-65 590.9 92.1)"/>
<ellipse cx="568.5" cy="25.0" rx="2.33" ry="1.20" fill="#2a7cf2" opacity="0.92" transform="rotate(-70 568.5 25.0)"/>
<ellipse cx="543.1" cy="95.7" rx="3.32" ry="1.20" fill="#2a7cf2" opacity="0.92" transform="rotate(-53 543.1 95.7)"/>
<ellipse cx="613.4" cy="54.6" rx="3.08" ry="1.20" fill="#2a7cf2" opacity="0.92" transform="rotate(-52 613.4 54.6)"/>
<ellipse cx="590.5" cy="31.7" rx="2.50" ry="1.20" fill="#2a7cf2" opacity="0.92" transform="rotate(-46 590.5 31.7)"/>
<ellipse cx="565.3" cy="77.0" rx="3.28" ry="1.20" fill="#2a7cf2" opacity="0.92" transform="rotate(-51 565.3 77.0)"/>
<ellipse cx="551.6" cy="47.4" rx="2.37" ry="1.20" fill="#2a7cf2" opacity="0.92" transform="rotate(-51 551.6 47.4)"/>
<ellipse cx="609.1" cy="48.7" rx="2.68" ry="1.20" fill="#2a7cf2" opacity="0.92" transform="rotate(-61 609.1 48.7)"/>
<ellipse cx="592.7" cy="37.9" rx="2.40" ry="1.20" fill="#2a7cf2" opacity="0.92" transform="rotate(-69 592.7 37.9)"/>
<ellipse cx="533.1" cy="72.1" rx="2.33" ry="1.20" fill="#2a7cf2" opacity="0.92" transform="rotate(-43 533.1 72.1)"/>
<ellipse cx="567.0" cy="51.8" rx="2.72" ry="1.20" fill="#2a7cf2" opacity="0.92" transform="rotate(-64 567.0 51.8)"/>
<ellipse cx="530.7" cy="57.0" rx="2.39" ry="1.20" fill="#2a7cf2" opacity="0.92" transform="rotate(-65 530.7 57.0)"/>
<ellipse cx="533.5" cy="95.3" rx="3.46" ry="1.20" fill="#2a7cf2" opacity="0.92" transform="rotate(-51 533.5 95.3)"/>
<ellipse cx="603.0" cy="80.9" rx="2.45" ry="1.20" fill="#2a7cf2" opacity="0.92" transform="rotate(-66 603.0 80.9)"/>
<ellipse cx="620.4" cy="76.8" rx="2.49" ry="1.20" fill="#2a7cf2" opacity="0.92" transform="rotate(-51 620.4 76.8)"/>
<ellipse cx="600.7" cy="65.4" rx="2.56" ry="1.20" fill="#2a7cf2" opacity="0.92" transform="rotate(-70 600.7 65.4)"/>
<ellipse cx="618.7" cy="72.1" rx="2.41" ry="1.20" fill="#2a7cf2" opacity="0.92" transform="rotate(-70 618.7 72.1)"/>
<ellipse cx="596.5" cy="51.5" rx="2.48" ry="1.20" fill="#2a7cf2" opacity="0.92" transform="rotate(-59 596.5 51.5)"/>
<ellipse cx="537.9" cy="62.5" rx="2.54" ry="1.20" fill="#2a7cf2" opacity="0.92" transform="rotate(-60 537.9 62.5)"/>
<ellipse cx="535.1" cy="58.6" rx="2.39" ry="1.20" fill="#2a7cf2" opacity="0.92" transform="rotate(-70 535.1 58.6)"/>
<ellipse cx="568.1" cy="28.6" rx="3.21" ry="1.20" fill="#2a7cf2" opacity="0.92" transform="rotate(-51 568.1 28.6)"/>
<ellipse cx="591.9" cy="97.1" rx="2.81" ry="1.20" fill="#2a7cf2" opacity="0.92" transform="rotate(-68 591.9 97.1)"/>
<ellipse cx="562.1" cy="30.2" rx="2.37" ry="1.20" fill="#2a7cf2" opacity="0.92" transform="rotate(-47 562.1 30.2)"/>
<ellipse cx="620.3" cy="76.1" rx="2.39" ry="1.20" fill="#2a7cf2" opacity="0.92" transform="rotate(-43 620.3 76.1)"/>
<ellipse cx="611.1" cy="98.0" rx="2.99" ry="1.20" fill="#2a7cf2" opacity="0.92" transform="rotate(-50 611.1 98.0)"/>
<ellipse cx="586.0" cy="61.4" rx="2.99" ry="1.20" fill="#2a7cf2" opacity="0.92" transform="rotate(-47 586.0 61.4)"/>
<ellipse cx="575.7" cy="55.5" rx="3.00" ry="1.20" fill="#2a7cf2" opacity="0.92" transform="rotate(-54 575.7 55.5)"/>
<ellipse cx="615.9" cy="83.5" rx="3.16" ry="1.20" fill="#2a7cf2" opacity="0.92" transform="rotate(-63 615.9 83.5)"/>
<ellipse cx="543.6" cy="61.3" rx="3.16" ry="1.20" fill="#2a7cf2" opacity="0.92" transform="rotate(-57 543.6 61.3)"/>
<ellipse cx="527.1" cy="35.9" rx="3.04" ry="1.20" fill="#2a7cf2" opacity="0.92" transform="rotate(-68 527.1 35.9)"/>
<ellipse cx="537.1" cy="67.3" rx="2.82" ry="1.20" fill="#2a7cf2" opacity="0.92" transform="rotate(-47 537.1 67.3)"/>
<ellipse cx="542.6" cy="70.1" rx="2.83" ry="1.20" fill="#2a7cf2" opacity="0.92" transform="rotate(-61 542.6 70.1)"/>
<ellipse cx="537.9" cy="76.6" rx="3.46" ry="1.20" fill="#2a7cf2" opacity="0.92" transform="rotate(-63 537.9 76.6)"/>
<ellipse cx="570.5" cy="76.6" rx="3.46" ry="1.20" fill="#2a7cf2" opacity="0.92" transform="rotate(-45 570.5 76.6)"/>
<ellipse cx="521.9" cy="95.3" rx="3.42" ry="1.20" fill="#2a7cf2" opacity="0.92" transform="rotate(-70 521.9 95.3)"/>
<ellipse cx="600.4" cy="44.2" rx="2.97" ry="1.20" fill="#2a7cf2" opacity="0.92" transform="rotate(-52 600.4 44.2)"/>
<ellipse cx="566.0" cy="72.4" rx="3.08" ry="1.20" fill="#2a7cf2" opacity="0.92" transform="rotate(-59 566.0 72.4)"/>
<ellipse cx="590.8" cy="25.1" rx="3.14" ry="1.20" fill="#2a7cf2" opacity="0.92" transform="rotate(-54 590.8 25.1)"/>
<ellipse cx="608.4" cy="65.5" rx="2.49" ry="1.20" fill="#2a7cf2" opacity="0.92" transform="rotate(-57 608.4 65.5)"/>
<ellipse cx="539.7" cy="92.8" rx="3.36" ry="1.20" fill="#2a7cf2" opacity="0.92" transform="rotate(-71 539.7 92.8)"/>
<ellipse cx="532.3" cy="53.9" rx="2.35" ry="1.20" fill="#2a7cf2" opacity="0.92" transform="rotate(-54 532.3 53.9)"/>
<ellipse cx="565.4" cy="85.5" rx="2.52" ry="1.20" fill="#2a7cf2" opacity="0.92" transform="rotate(-61 565.4 85.5)"/>
<ellipse cx="525.8" cy="96.9" rx="3.10" ry="1.20" fill="#2a7cf2" opacity="0.92" transform="rotate(-70 525.8 96.9)"/>
<ellipse cx="584.9" cy="46.0" rx="3.12" ry="1.20" fill="#2a7cf2" opacity="0.92" transform="rotate(-56 584.9 46.0)"/>
<ellipse cx="541.0" cy="43.3" rx="2.56" ry="1.20" fill="#2a7cf2" opacity="0.92" transform="rotate(-45 541.0 43.3)"/>
<ellipse cx="569.7" cy="59.3" rx="3.31" ry="1.20" fill="#2a7cf2" opacity="0.92" transform="rotate(-50 569.7 59.3)"/>
<ellipse cx="597.8" cy="72.4" rx="2.43" ry="1.20" fill="#2a7cf2" opacity="0.92" transform="rotate(-57 597.8 72.4)"/>
<ellipse cx="578.4" cy="57.7" rx="2.76" ry="1.20" fill="#2a7cf2" opacity="0.92" transform="rotate(-50 578.4 57.7)"/>
<ellipse cx="532.2" cy="53.9" rx="2.90" ry="1.20" fill="#2a7cf2" opacity="0.92" transform="rotate(-48 532.2 53.9)"/>
<ellipse cx="588.1" cy="29.0" rx="2.63" ry="1.20" fill="#2a7cf2" opacity="0.92" transform="rotate(-66 588.1 29.0)"/>
<ellipse cx="569.2" cy="33.8" rx="2.70" ry="1.20" fill="#2a7cf2" opacity="0.92" transform="rotate(-45 569.2 33.8)"/>
<ellipse cx="519.8" cy="42.9" rx="3.03" ry="1.20" fill="#2a7cf2" opacity="0.92" transform="rotate(-58 519.8 42.9)"/>
<ellipse cx="603.0" cy="31.3" rx="3.31" ry="1.20" fill="#2a7cf2" opacity="0.92" transform="rotate(-44 603.0 31.3)"/>
<ellipse cx="572.3" cy="73.9" rx="2.49" ry="1.20" fill="#2a7cf2" opacity="0.92" transform="rotate(-64 572.3 73.9)"/>
<ellipse cx="520.7" cy="97.9" rx="2.84" ry="1.20" fill="#2a7cf2" opacity="0.92" transform="rotate(-46 520.7 97.9)"/>
<ellipse cx="581.3" cy="61.0" rx="2.44" ry="1.20" fill="#2a7cf2" opacity="0.92" transform="rotate(-52 581.3 61.0)"/>
<ellipse cx="596.8" cy="38.0" rx="3.04" ry="1.20" fill="#2a7cf2" opacity="0.92" transform="rotate(-55 596.8 38.0)"/>
<ellipse cx="606.4" cy="71.5" rx="3.27" ry="1.20" fill="#2a7cf2" opacity="0.92" transform="rotate(-68 606.4 71.5)"/>
<ellipse cx="558.0" cy="67.6" rx="3.45" ry="1.20" fill="#2a7cf2" opacity="0.92" transform="rotate(-49 558.0 67.6)"/>
<ellipse cx="530.4" cy="59.3" rx="3.30" ry="1.20" fill="#2a7cf2" opacity="0.92" transform="rotate(-64 530.4 59.3)"/>
<ellipse cx="560.4" cy="94.0" rx="2.81" ry="1.20" fill="#2a7cf2" opacity="0.92" transform="rotate(-49 560.4 94.0)"/>
<ellipse cx="597.8" cy="76.4" rx="2.66" ry="1.20" fill="#2a7cf2" opacity="0.92" transform="rotate(-69 597.8 76.4)"/>
<ellipse cx="533.6" cy="88.0" rx="2.67" ry="1.20" fill="#2a7cf2" opacity="0.92" transform="rotate(-61 533.6 88.0)"/>
<ellipse cx="593.1" cy="99.8" rx="3.12" ry="1.20" fill="#2a7cf2" opacity="0.92" transform="rotate(-69 593.1 99.8)"/>
<ellipse cx="543.1" cy="84.9" rx="3.21" ry="1.20" fill="#2a7cf2" opacity="0.92" transform="rotate(-51 543.1 84.9)"/>
<ellipse cx="579.4" cy="34.0" rx="2.45" ry="1.20" fill="#2a7cf2" opacity="0.92" transform="rotate(-47 579.4 34.0)"/>
<ellipse cx="579.0" cy="97.7" rx="2.88" ry="1.20" fill="#2a7cf2" opacity="0.92" transform="rotate(-65 579.0 97.7)"/>
<ellipse cx="588.8" cy="73.9" rx="2.80" ry="1.20" fill="#2a7cf2" opacity="0.92" transform="rotate(-63 588.8 73.9)"/>
<ellipse cx="611.4" cy="79.2" rx="3.11" ry="1.20" fill="#2a7cf2" opacity="0.92" transform="rotate(-68 611.4 79.2)"/>
<ellipse cx="606.9" cy="70.5" rx="2.63" ry="1.20" fill="#2a7cf2" opacity="0.92" transform="rotate(-46 606.9 70.5)"/>
<ellipse cx="549.3" cy="90.6" rx="2.47" ry="1.20" fill="#2a7cf2" opacity="0.92" transform="rotate(-65 549.3 90.6)"/>
<ellipse cx="534.9" cy="91.8" rx="2.55" ry="1.20" fill="#2a7cf2" opacity="0.92" transform="rotate(-48 534.9 91.8)"/>
<ellipse cx="595.6" cy="39.7" rx="2.33" ry="1.20" fill="#2a7cf2" opacity="0.92" transform="rotate(-54 595.6 39.7)"/>
<ellipse cx="578.7" cy="81.8" rx="3.05" ry="1.20" fill="#2a7cf2" opacity="0.92" transform="rotate(-58 578.7 81.8)"/>
<ellipse cx="531.7" cy="59.5" rx="2.75" ry="1.20" fill="#2a7cf2" opacity="0.92" transform="rotate(-49 531.7 59.5)"/>
<ellipse cx="595.8" cy="70.3" rx="3.18" ry="1.20" fill="#2a7cf2" opacity="0.92" transform="rotate(-49 595.8 70.3)"/>
<ellipse cx="550.9" cy="87.0" rx="2.82" ry="1.20" fill="#2a7cf2" opacity="0.92" transform="rotate(-48 550.9 87.0)"/>
<ellipse cx="593.2" cy="56.2" rx="2.70" ry="1.20" fill="#2a7cf2" opacity="0.92" transform="rotate(-56 593.2 56.2)"/>
<ellipse cx="566.9" cy="48.2" rx="3.03" ry="1.20" fill="#2a7cf2" opacity="0.92" transform="rotate(-46 566.9 48.2)"/>
<ellipse cx="582.5" cy="64.5" rx="2.52" ry="1.20" fill="#2a7cf2" opacity="0.92" transform="rotate(-59 582.5 64.5)"/>
<ellipse cx="585.9" cy="58.6" rx="2.91" ry="1.20" fill="#2a7cf2" opacity="0.92" transform="rotate(-63 585.9 58.6)"/>
<ellipse cx="533.1" cy="74.0" rx="2.75" ry="1.20" fill="#2a7cf2" opacity="0.92" transform="rotate(-50 533.1 74.0)"/>
<ellipse cx="536.2" cy="98.4" rx="2.69" ry="1.20" fill="#2a7cf2" opacity="0.92" transform="rotate(-54 536.2 98.4)"/>
<ellipse cx="528.9" cy="68.3" rx="3.36" ry="1.20" fill="#2a7cf2" opacity="0.92" transform="rotate(-66 528.9 68.3)"/>
<ellipse cx="593.0" cy="45.8" rx="2.42" ry="1.20" fill="#2a7cf2" opacity="0.92" transform="rotate(-61 593.0 45.8)"/>
<ellipse cx="542.7" cy="67.2" rx="2.81" ry="1.20" fill="#2a7cf2" opacity="0.92" transform="rotate(-47 542.7 67.2)"/>
<ellipse cx="618.2" cy="44.2" rx="3.29" ry="1.20" fill="#2a7cf2" opacity="0.92" transform="rotate(-70 618.2 44.2)"/>
<ellipse cx="558.3" cy="46.0" rx="3.03" ry="1.20" fill="#2a7cf2" opacity="0.92" transform="rotate(-60 558.3 46.0)"/>
<ellipse cx="542.2" cy="32.8" rx="3.08" ry="1.20" fill="#2a7cf2" opacity="0.92" transform="rotate(-55 542.2 32.8)"/>
<ellipse cx="577.0" cy="36.9" rx="2.82" ry="1.20" fill="#2a7cf2" opacity="0.92" transform="rotate(-47 577.0 36.9)"/>
<ellipse cx="575.2" cy="92.1" rx="2.90" ry="1.20" fill="#2a7cf2" opacity="0.92" transform="rotate(-69 575.2 92.1)"/>
<rect x="593.70" y="90.00" width="22.30" height="3.90" fill="#fff" stroke="none" stroke-width="0.7"/>
</g>
<text x="330.3" y="114" font-size="9.6"><tspan fill="#1f8a3b">CD31</tspan><tspan fill="#2e3192"> DAPI</tspan></text>
<text x="424.9" y="114" font-size="9.6"><tspan fill="#e8202a">VE-Cadherin</tspan><tspan fill="#2e3192"> DAPI</tspan></text>
<text x="546.3" y="114" font-size="9.6"><tspan fill="#1f8a3b">vWF</tspan><tspan fill="#2e3192"> DAPI</tspan></text>
<text x="0.30" y="226.80" font-size="19.4" font-weight="bold" fill="#000">C</text>
<rect x="65.40" y="230.70" width="132.50" height="133.70" fill="#fff" stroke="none" stroke-width="0.7"/>
<line x1="80.97" y1="230.70" x2="80.97" y2="364.40" stroke="#ececec" stroke-width="0.5"/>
<line x1="125.12" y1="230.70" x2="125.12" y2="364.40" stroke="#ececec" stroke-width="0.5"/>
<line x1="169.27" y1="230.70" x2="169.27" y2="364.40" stroke="#ececec" stroke-width="0.5"/>
<line x1="65.40" y1="363.17" x2="197.90" y2="363.17" stroke="#ececec" stroke-width="0.5"/>
<line x1="65.40" y1="323.32" x2="197.90" y2="323.32" stroke="#ececec" stroke-width="0.5"/>
<line x1="65.40" y1="283.47" x2="197.90" y2="283.47" stroke="#ececec" stroke-width="0.5"/>
<line x1="65.40" y1="243.62" x2="197.90" y2="243.62" stroke="#ececec" stroke-width="0.5"/>
<line x1="103.05" y1="230.70" x2="103.05" y2="364.40" stroke="#dcdcdc" stroke-width="0.7"/>
<line x1="103.05" y1="364.40" x2="103.05" y2="366.60" stroke="#444" stroke-width="0.6"/>
<text x="103.05" y="375.60" font-size="9.5" text-anchor="middle" fill="#333" stroke="#333" stroke-width="0.3">-25</text>
<line x1="147.20" y1="230.70" x2="147.20" y2="364.40" stroke="#dcdcdc" stroke-width="0.7"/>
<line x1="147.20" y1="364.40" x2="147.20" y2="366.60" stroke="#444" stroke-width="0.6"/>
<text x="147.20" y="375.60" font-size="9.5" text-anchor="middle" fill="#333" stroke="#333" stroke-width="0.3">0</text>
<line x1="191.35" y1="230.70" x2="191.35" y2="364.40" stroke="#dcdcdc" stroke-width="0.7"/>
<line x1="191.35" y1="364.40" x2="191.35" y2="366.60" stroke="#444" stroke-width="0.6"/>
<text x="191.35" y="375.60" font-size="9.5" text-anchor="middle" fill="#333" stroke="#333" stroke-width="0.3">25</text>
<line x1="65.40" y1="343.25" x2="197.90" y2="343.25" stroke="#dcdcdc" stroke-width="0.7"/>
<line x1="63.20" y1="343.25" x2="65.40" y2="343.25" stroke="#444" stroke-width="0.6"/>
<text x="61.80" y="346.55" font-size="9.5" text-anchor="end" fill="#333" stroke="#333" stroke-width="0.3">-10</text>
<line x1="65.40" y1="303.40" x2="197.90" y2="303.40" stroke="#dcdcdc" stroke-width="0.7"/>
<line x1="63.20" y1="303.40" x2="65.40" y2="303.40" stroke="#444" stroke-width="0.6"/>
<text x="61.80" y="306.70" font-size="9.5" text-anchor="end" fill="#333" stroke="#333" stroke-width="0.3">0</text>
<line x1="65.40" y1="263.55" x2="197.90" y2="263.55" stroke="#dcdcdc" stroke-width="0.7"/>
<line x1="63.20" y1="263.55" x2="65.40" y2="263.55" stroke="#444" stroke-width="0.6"/>
<text x="61.80" y="266.85" font-size="9.5" text-anchor="end" fill="#333" stroke="#333" stroke-width="0.3">10</text>
<rect x="65.40" y="230.70" width="132.50" height="133.70" fill="none" stroke="#7a7a7a" stroke-width="0.7"/>
<text x="131.60" y="392.60" font-size="9.6" text-anchor="middle" fill="#1c191a" stroke="#1c191a" stroke-width="0.3">PC1 (63.92%)</text>
<text x="41.20" y="304.00" font-size="9.6" text-anchor="middle" fill="#1c191a" stroke="#1c191a" stroke-width="0.3" transform="rotate(-90 41.20 304.00)">PC2 (11.63%)</text>
<ellipse cx="180.0" cy="240.5" rx="16.2" ry="9.0" fill="#d4d4d4" stroke="#c2c2c2" stroke-width="0.5" transform="rotate(3 180.0 240.5)"/>
<ellipse cx="73.4" cy="291.9" rx="6.6" ry="7.4" fill="#d4d4d4" stroke="#c2c2c2" stroke-width="0.5" transform="rotate(0 73.4 291.9)"/>
<ellipse cx="181.3" cy="325.0" rx="8.6" ry="13.6" fill="#d4d4d4" stroke="#c2c2c2" stroke-width="0.5" transform="rotate(-12 181.3 325.0)"/>
<ellipse cx="157.0" cy="357.2" rx="11.2" ry="6.2" fill="#d4d4d4" stroke="#c2c2c2" stroke-width="0.5" transform="rotate(3 157.0 357.2)"/>
<circle cx="172.50" cy="242.90" r="3.05" fill="#d9423a"/>
<circle cx="178.30" cy="236.40" r="3.05" fill="#d9423a"/>
<circle cx="191.30" cy="240.50" r="3.05" fill="#d9423a"/>
<circle cx="72.00" cy="291.00" r="3.05" fill="#4f7f1e"/>
<circle cx="73.20" cy="291.60" r="3.05" fill="#4f7f1e"/>
<circle cx="179.90" cy="320.60" r="3.05" fill="#9d4edd"/>
<circle cx="179.90" cy="327.10" r="3.05" fill="#9d4edd"/>
<circle cx="182.70" cy="328.40" r="3.05" fill="#9d4edd"/>
<circle cx="152.50" cy="357.00" r="3.05" fill="#1a8c92"/>
<circle cx="155.40" cy="358.20" r="3.05" fill="#1a8c92"/>
<circle cx="160.30" cy="357.80" r="3.05" fill="#1a8c92"/>
<text x="158.60" y="243.30" font-size="9.6" text-anchor="end" fill="#1c191a" stroke="#1c191a" stroke-width="0.3">ECFCs</text>
<text x="78.50" y="283.80" font-size="9.6" fill="#1c191a" stroke="#1c191a" stroke-width="0.3">iPSCs</text>
<text x="188.00" y="299.30" font-size="9.6" text-anchor="end" fill="#1c191a" stroke="#1c191a" stroke-width="0.3">iECs</text>
<text x="188.00" y="308.60" font-size="9.6" text-anchor="end" fill="#1c191a" stroke="#1c191a" stroke-width="0.3">modRNA-ETV2</text>
<text x="147.60" y="338.50" font-size="9.6" text-anchor="end" fill="#1c191a" stroke="#1c191a" stroke-width="0.3">iECs</text>
<text x="147.60" y="348.40" font-size="9.6" text-anchor="end" fill="#1c191a" stroke="#1c191a" stroke-width="0.3">Dox-ETV2</text>
<text x="0.60" y="426.00" font-size="19.4" font-weight="bold" fill="#000">D</text>
<rect x="45.40" y="455.50" width="9.25" height="9.18" fill="#ca1b1d" stroke="#858585" stroke-width="0.6"/>
<rect x="54.65" y="455.50" width="9.25" height="9.18" fill="#d02923" stroke="#858585" stroke-width="0.6"/>
<rect x="63.90" y="455.50" width="9.25" height="9.18" fill="#d43026" stroke="#858585" stroke-width="0.6"/>
<rect x="73.15" y="455.50" width="9.25" height="9.18" fill="#4c7cb9" stroke="#858585" stroke-width="0.6"/>
<rect x="82.40" y="455.50" width="9.25" height="9.18" fill="#72a5cf" stroke="#858585" stroke-width="0.6"/>
<rect x="91.65" y="455.50" width="9.25" height="9.18" fill="#4c7cb9" stroke="#858585" stroke-width="0.6"/>
<rect x="100.90" y="455.50" width="9.25" height="9.18" fill="#6799c9" stroke="#858585" stroke-width="0.6"/>
<rect x="110.15" y="455.50" width="9.25" height="9.18" fill="#5c8ec2" stroke="#858585" stroke-width="0.6"/>
<rect x="119.40" y="455.50" width="9.25" height="9.18" fill="#5c8ec2" stroke="#858585" stroke-width="0.6"/>
<rect x="128.65" y="455.50" width="9.25" height="9.18" fill="#6799c9" stroke="#858585" stroke-width="0.6"/>
<rect x="137.90" y="455.50" width="9.25" height="9.18" fill="#96c1de" stroke="#858585" stroke-width="0.6"/>
<rect x="147.15" y="455.50" width="9.25" height="9.18" fill="#a9cee5" stroke="#858585" stroke-width="0.6"/>
<rect x="45.40" y="464.68" width="9.25" height="9.18" fill="#d02923" stroke="#858585" stroke-width="0.6"/>
<rect x="54.65" y="464.68" width="9.25" height="9.18" fill="#ca1b1d" stroke="#858585" stroke-width="0.6"/>
<rect x="63.90" y="464.68" width="9.25" height="9.18" fill="#d02923" stroke="#858585" stroke-width="0.6"/>
<rect x="73.15" y="464.68" width="9.25" height="9.18" fill="#3060a9" stroke="#858585" stroke-width="0.6"/>
<rect x="82.40" y="464.68" width="9.25" height="9.18" fill="#5788bf" stroke="#858585" stroke-width="0.6"/>
<rect x="91.65" y="464.68" width="9.25" height="9.18" fill="#3665ac" stroke="#858585" stroke-width="0.6"/>
<rect x="100.90" y="464.68" width="9.25" height="9.18" fill="#4c7cb9" stroke="#858585" stroke-width="0.6"/>
<rect x="110.15" y="464.68" width="9.25" height="9.18" fill="#4171b3" stroke="#858585" stroke-width="0.6"/>
<rect x="119.40" y="464.68" width="9.25" height="9.18" fill="#4677b6" stroke="#858585" stroke-width="0.6"/>
<rect x="128.65" y="464.68" width="9.25" height="9.18" fill="#5182bc" stroke="#858585" stroke-width="0.6"/>
<rect x="137.90" y="464.68" width="9.25" height="9.18" fill="#78aad2" stroke="#858585" stroke-width="0.6"/>
<rect x="147.15" y="464.68" width="9.25" height="9.18" fill="#89b9da" stroke="#858585" stroke-width="0.6"/>
<rect x="45.40" y="473.87" width="9.25" height="9.18" fill="#d43026" stroke="#858585" stroke-width="0.6"/>
<rect x="54.65" y="473.87" width="9.25" height="9.18" fill="#d02923" stroke="#858585" stroke-width="0.6"/>
<rect x="63.90" y="473.87" width="9.25" height="9.18" fill="#ca1b1d" stroke="#858585" stroke-width="0.6"/>
<rect x="73.15" y="473.87" width="9.25" height="9.18" fill="#2b5aa6" stroke="#858585" stroke-width="0.6"/>
<rect x="82.40" y="473.87" width="9.25" height="9.18" fill="#4c7cb9" stroke="#858585" stroke-width="0.6"/>
<rect x="91.65" y="473.87" width="9.25" height="9.18" fill="#3060a9" stroke="#858585" stroke-width="0.6"/>
<rect x="100.90" y="473.87" width="9.25" height="9.18" fill="#3b6baf" stroke="#858585" stroke-width="0.6"/>
<rect x="110.15" y="473.87" width="9.25" height="9.18" fill="#3060a9" stroke="#858585" stroke-width="0.6"/>
<rect x="119.40" y="473.87" width="9.25" height="9.18" fill="#3060a9" stroke="#858585" stroke-width="0.6"/>
<rect x="128.65" y="473.87" width="9.25" height="9.18" fill="#4677b6" stroke="#858585" stroke-width="0.6"/>
<rect x="137.90" y="473.87" width="9.25" height="9.18" fill="#6799c9" stroke="#858585" stroke-width="0.6"/>
<rect x="147.15" y="473.87" width="9.25" height="9.18" fill="#72a5cf" stroke="#858585" stroke-width="0.6"/>
<rect x="45.40" y="483.05" width="9.25" height="9.18" fill="#4c7cb9" stroke="#858585" stroke-width="0.6"/>
<rect x="54.65" y="483.05" width="9.25" height="9.18" fill="#3060a9" stroke="#858585" stroke-width="0.6"/>
<rect x="63.90" y="483.05" width="9.25" height="9.18" fill="#2b5aa6" stroke="#858585" stroke-width="0.6"/>
<rect x="73.15" y="483.05" width="9.25" height="9.18" fill="#ca1b1d" stroke="#858585" stroke-width="0.6"/>
<rect x="82.40" y="483.05" width="9.25" height="9.18" fill="#dd452f" stroke="#858585" stroke-width="0.6"/>
<rect x="91.65" y="483.05" width="9.25" height="9.18" fill="#e45335" stroke="#858585" stroke-width="0.6"/>
<rect x="100.90" y="483.05" width="9.25" height="9.18" fill="#fca75f" stroke="#858585" stroke-width="0.6"/>
<rect x="110.15" y="483.05" width="9.25" height="9.18" fill="#fdb265" stroke="#858585" stroke-width="0.6"/>
<rect x="119.40" y="483.05" width="9.25" height="9.18" fill="#fdb265" stroke="#858585" stroke-width="0.6"/>
<rect x="128.65" y="483.05" width="9.25" height="9.18" fill="#fa854a" stroke="#858585" stroke-width="0.6"/>
<rect x="137.90" y="483.05" width="9.25" height="9.18" fill="#fb9051" stroke="#858585" stroke-width="0.6"/>
<rect x="147.15" y="483.05" width="9.25" height="9.18" fill="#fc9655" stroke="#858585" stroke-width="0.6"/>
<rect x="45.40" y="492.23" width="9.25" height="9.18" fill="#72a5cf" stroke="#858585" stroke-width="0.6"/>
<rect x="54.65" y="492.23" width="9.25" height="9.18" fill="#5788bf" stroke="#858585" stroke-width="0.6"/>
<rect x="63.90" y="492.23" width="9.25" height="9.18" fill="#4c7cb9" stroke="#858585" stroke-width="0.6"/>
<rect x="73.15" y="492.23" width="9.25" height="9.18" fill="#dd452f" stroke="#858585" stroke-width="0.6"/>
<rect x="82.40" y="492.23" width="9.25" height="9.18" fill="#ca1b1d" stroke="#858585" stroke-width="0.6"/>
<rect x="91.65" y="492.23" width="9.25" height="9.18" fill="#dd452f" stroke="#858585" stroke-width="0.6"/>
<rect x="100.90" y="492.23" width="9.25" height="9.18" fill="#fed47a" stroke="#858585" stroke-width="0.6"/>
<rect x="110.15" y="492.23" width="9.25" height="9.18" fill="#fee189" stroke="#858585" stroke-width="0.6"/>
<rect x="119.40" y="492.23" width="9.25" height="9.18" fill="#fee48d" stroke="#858585" stroke-width="0.6"/>
<rect x="128.65" y="492.23" width="9.25" height="9.18" fill="#fc9b58" stroke="#858585" stroke-width="0.6"/>
<rect x="137.90" y="492.23" width="9.25" height="9.18" fill="#fca75f" stroke="#858585" stroke-width="0.6"/>
<rect x="147.15" y="492.23" width="9.25" height="9.18" fill="#fcac62" stroke="#858585" stroke-width="0.6"/>
<rect x="45.40" y="501.42" width="9.25" height="9.18" fill="#4c7cb9" stroke="#858585" stroke-width="0.6"/>
<rect x="54.65" y="501.42" width="9.25" height="9.18" fill="#3665ac" stroke="#858585" stroke-width="0.6"/>
<rect x="63.90" y="501.42" width="9.25" height="9.18" fill="#3060a9" stroke="#858585" stroke-width="0.6"/>
<rect x="73.15" y="501.42" width="9.25" height="9.18" fill="#e45335" stroke="#858585" stroke-width="0.6"/>
<rect x="82.40" y="501.42" width="9.25" height="9.18" fill="#dd452f" stroke="#858585" stroke-width="0.6"/>
<rect x="91.65" y="501.42" width="9.25" height="9.18" fill="#ca1b1d" stroke="#858585" stroke-width="0.6"/>
<rect x="100.90" y="501.42" width="9.25" height="9.18" fill="#fdc873" stroke="#858585" stroke-width="0.6"/>
<rect x="110.15" y="501.42" width="9.25" height="9.18" fill="#fedf85" stroke="#858585" stroke-width="0.6"/>
<rect x="119.40" y="501.42" width="9.25" height="9.18" fill="#fedf85" stroke="#858585" stroke-width="0.6"/>
<rect x="128.65" y="501.42" width="9.25" height="9.18" fill="#fca75f" stroke="#858585" stroke-width="0.6"/>
<rect x="137.90" y="501.42" width="9.25" height="9.18" fill="#fdb265" stroke="#858585" stroke-width="0.6"/>
<rect x="147.15" y="501.42" width="9.25" height="9.18" fill="#fdbd6c" stroke="#858585" stroke-width="0.6"/>
<rect x="45.40" y="510.60" width="9.25" height="9.18" fill="#6799c9" stroke="#858585" stroke-width="0.6"/>
<rect x="54.65" y="510.60" width="9.25" height="9.18" fill="#4c7cb9" stroke="#858585" stroke-width="0.6"/>
<rect x="63.90" y="510.60" width="9.25" height="9.18" fill="#3b6baf" stroke="#858585" stroke-width="0.6"/>
<rect x="73.15" y="510.60" width="9.25" height="9.18" fill="#fca75f" stroke="#858585" stroke-width="0.6"/>
<rect x="82.40" y="510.60" width="9.25" height="9.18" fill="#fed47a" stroke="#858585" stroke-width="0.6"/>
<rect x="91.65" y="510.60" width="9.25" height="9.18" fill="#fdc873" stroke="#858585" stroke-width="0.6"/>
<rect x="100.90" y="510.60" width="9.25" height="9.18" fill="#ca1b1d" stroke="#858585" stroke-width="0.6"/>
<rect x="110.15" y="510.60" width="9.25" height="9.18" fill="#d73729" stroke="#858585" stroke-width="0.6"/>
<rect x="119.40" y="510.60" width="9.25" height="9.18" fill="#d43026" stroke="#858585" stroke-width="0.6"/>
<rect x="128.65" y="510.60" width="9.25" height="9.18" fill="#e14c32" stroke="#858585" stroke-width="0.6"/>
<rect x="137.90" y="510.60" width="9.25" height="9.18" fill="#e45335" stroke="#858585" stroke-width="0.6"/>
<rect x="147.15" y="510.60" width="9.25" height="9.18" fill="#e75a38" stroke="#858585" stroke-width="0.6"/>
<rect x="45.40" y="519.78" width="9.25" height="9.18" fill="#5c8ec2" stroke="#858585" stroke-width="0.6"/>
<rect x="54.65" y="519.78" width="9.25" height="9.18" fill="#4171b3" stroke="#858585" stroke-width="0.6"/>
<rect x="63.90" y="519.78" width="9.25" height="9.18" fill="#3060a9" stroke="#858585" stroke-width="0.6"/>
<rect x="73.15" y="519.78" width="9.25" height="9.18" fill="#fdb265" stroke="#858585" stroke-width="0.6"/>
<rect x="82.40" y="519.78" width="9.25" height="9.18" fill="#fee189" stroke="#858585" stroke-width="0.6"/>
<rect x="91.65" y="519.78" width="9.25" height="9.18" fill="#fedf85" stroke="#858585" stroke-width="0.6"/>
<rect x="100.90" y="519.78" width="9.25" height="9.18" fill="#d73729" stroke="#858585" stroke-width="0.6"/>
<rect x="110.15" y="519.78" width="9.25" height="9.18" fill="#ca1b1d" stroke="#858585" stroke-width="0.6"/>
<rect x="119.40" y="519.78" width="9.25" height="9.18" fill="#d73729" stroke="#858585" stroke-width="0.6"/>
<rect x="128.65" y="519.78" width="9.25" height="9.18" fill="#e45335" stroke="#858585" stroke-width="0.6"/>
<rect x="137.90" y="519.78" width="9.25" height="9.18" fill="#e45335" stroke="#858585" stroke-width="0.6"/>
<rect x="147.15" y="519.78" width="9.25" height="9.18" fill="#e75a38" stroke="#858585" stroke-width="0.6"/>
<rect x="45.40" y="528.97" width="9.25" height="9.18" fill="#5c8ec2" stroke="#858585" stroke-width="0.6"/>
<rect x="54.65" y="528.97" width="9.25" height="9.18" fill="#4677b6" stroke="#858585" stroke-width="0.6"/>
<rect x="63.90" y="528.97" width="9.25" height="9.18" fill="#3060a9" stroke="#858585" stroke-width="0.6"/>
<rect x="73.15" y="528.97" width="9.25" height="9.18" fill="#fdb265" stroke="#858585" stroke-width="0.6"/>
<rect x="82.40" y="528.97" width="9.25" height="9.18" fill="#fee48d" stroke="#858585" stroke-width="0.6"/>
<rect x="91.65" y="528.97" width="9.25" height="9.18" fill="#fedf85" stroke="#858585" stroke-width="0.6"/>
<rect x="100.90" y="528.97" width="9.25" height="9.18" fill="#d43026" stroke="#858585" stroke-width="0.6"/>
<rect x="110.15" y="528.97" width="9.25" height="9.18" fill="#d73729" stroke="#858585" stroke-width="0.6"/>
<rect x="119.40" y="528.97" width="9.25" height="9.18" fill="#ca1b1d" stroke="#858585" stroke-width="0.6"/>
<rect x="128.65" y="528.97" width="9.25" height="9.18" fill="#e75a38" stroke="#858585" stroke-width="0.6"/>
<rect x="137.90" y="528.97" width="9.25" height="9.18" fill="#e75a38" stroke="#858585" stroke-width="0.6"/>
<rect x="147.15" y="528.97" width="9.25" height="9.18" fill="#ea623b" stroke="#858585" stroke-width="0.6"/>
<rect x="45.40" y="538.15" width="9.25" height="9.18" fill="#6799c9" stroke="#858585" stroke-width="0.6"/>
<rect x="54.65" y="538.15" width="9.25" height="9.18" fill="#5182bc" stroke="#858585" stroke-width="0.6"/>
<rect x="63.90" y="538.15" width="9.25" height="9.18" fill="#4677b6" stroke="#858585" stroke-width="0.6"/>
<rect x="73.15" y="538.15" width="9.25" height="9.18" fill="#fa854a" stroke="#858585" stroke-width="0.6"/>
<rect x="82.40" y="538.15" width="9.25" height="9.18" fill="#fc9b58" stroke="#858585" stroke-width="0.6"/>
<rect x="91.65" y="538.15" width="9.25" height="9.18" fill="#fca75f" stroke="#858585" stroke-width="0.6"/>
<rect x="100.90" y="538.15" width="9.25" height="9.18" fill="#e14c32" stroke="#858585" stroke-width="0.6"/>
<rect x="110.15" y="538.15" width="9.25" height="9.18" fill="#e45335" stroke="#858585" stroke-width="0.6"/>
<rect x="119.40" y="538.15" width="9.25" height="9.18" fill="#e75a38" stroke="#858585" stroke-width="0.6"/>
<rect x="128.65" y="538.15" width="9.25" height="9.18" fill="#ca1b1d" stroke="#858585" stroke-width="0.6"/>
<rect x="137.90" y="538.15" width="9.25" height="9.18" fill="#d43026" stroke="#858585" stroke-width="0.6"/>
<rect x="147.15" y="538.15" width="9.25" height="9.18" fill="#d73729" stroke="#858585" stroke-width="0.6"/>
<rect x="45.40" y="547.33" width="9.25" height="9.18" fill="#96c1de" stroke="#858585" stroke-width="0.6"/>
<rect x="54.65" y="547.33" width="9.25" height="9.18" fill="#78aad2" stroke="#858585" stroke-width="0.6"/>
<rect x="63.90" y="547.33" width="9.25" height="9.18" fill="#6799c9" stroke="#858585" stroke-width="0.6"/>
<rect x="73.15" y="547.33" width="9.25" height="9.18" fill="#fb9051" stroke="#858585" stroke-width="0.6"/>
<rect x="82.40" y="547.33" width="9.25" height="9.18" fill="#fca75f" stroke="#858585" stroke-width="0.6"/>
<rect x="91.65" y="547.33" width="9.25" height="9.18" fill="#fdb265" stroke="#858585" stroke-width="0.6"/>
<rect x="100.90" y="547.33" width="9.25" height="9.18" fill="#e45335" stroke="#858585" stroke-width="0.6"/>
<rect x="110.15" y="547.33" width="9.25" height="9.18" fill="#e45335" stroke="#858585" stroke-width="0.6"/>
<rect x="119.40" y="547.33" width="9.25" height="9.18" fill="#e75a38" stroke="#858585" stroke-width="0.6"/>
<rect x="128.65" y="547.33" width="9.25" height="9.18" fill="#d43026" stroke="#858585" stroke-width="0.6"/>
<rect x="137.90" y="547.33" width="9.25" height="9.18" fill="#ca1b1d" stroke="#858585" stroke-width="0.6"/>
<rect x="147.15" y="547.33" width="9.25" height="9.18" fill="#d02923" stroke="#858585" stroke-width="0.6"/>
<rect x="45.40" y="556.52" width="9.25" height="9.18" fill="#a9cee5" stroke="#858585" stroke-width="0.6"/>
<rect x="54.65" y="556.52" width="9.25" height="9.18" fill="#89b9da" stroke="#858585" stroke-width="0.6"/>
<rect x="63.90" y="556.52" width="9.25" height="9.18" fill="#72a5cf" stroke="#858585" stroke-width="0.6"/>
<rect x="73.15" y="556.52" width="9.25" height="9.18" fill="#fc9655" stroke="#858585" stroke-width="0.6"/>
<rect x="82.40" y="556.52" width="9.25" height="9.18" fill="#fcac62" stroke="#858585" stroke-width="0.6"/>
<rect x="91.65" y="556.52" width="9.25" height="9.18" fill="#fdbd6c" stroke="#858585" stroke-width="0.6"/>
<rect x="100.90" y="556.52" width="9.25" height="9.18" fill="#e75a38" stroke="#858585" stroke-width="0.6"/>
<rect x="110.15" y="556.52" width="9.25" height="9.18" fill="#e75a38" stroke="#858585" stroke-width="0.6"/>
<rect x="119.40" y="556.52" width="9.25" height="9.18" fill="#ea623b" stroke="#858585" stroke-width="0.6"/>
<rect x="128.65" y="556.52" width="9.25" height="9.18" fill="#d73729" stroke="#858585" stroke-width="0.6"/>
<rect x="137.90" y="556.52" width="9.25" height="9.18" fill="#d02923" stroke="#858585" stroke-width="0.6"/>
<rect x="147.15" y="556.52" width="9.25" height="9.18" fill="#ca1b1d" stroke="#858585" stroke-width="0.6"/>
<path d="M59.27,455.5 V454.0 H68.53 V455.5" stroke="#1c191a" stroke-width="0.7" fill="none"/>
<path d="M50.02,455.5 V452.2 H63.90 V454.0" stroke="#1c191a" stroke-width="0.7" fill="none"/>
<path d="M87.03,455.5 V454.0 H96.28 V455.5" stroke="#1c191a" stroke-width="0.7" fill="none"/>
<path d="M77.78,455.5 V452.2 H91.65 V454.0" stroke="#1c191a" stroke-width="0.7" fill="none"/>
<path d="M114.78,455.5 V454.4 H124.03 V455.5" stroke="#1c191a" stroke-width="0.7" fill="none"/>
<path d="M105.53,455.5 V453.6 H119.40 V454.4" stroke="#1c191a" stroke-width="0.7" fill="none"/>
<path d="M142.53,455.5 V454.2 H151.78 V455.5" stroke="#1c191a" stroke-width="0.7" fill="none"/>
<path d="M133.28,455.5 V453.2 H147.15 V454.2" stroke="#1c191a" stroke-width="0.7" fill="none"/>
<path d="M112.46,453.6 V451.0 H140.21 V453.2" stroke="#1c191a" stroke-width="0.7" fill="none"/>
<path d="M84.71,452.2 V446.0 H126.34 V451.0" stroke="#1c191a" stroke-width="0.7" fill="none"/>
<path d="M56.96,452.2 V423.2 H105.53 V446.0" stroke="#1c191a" stroke-width="0.7" fill="none"/>
<path d="M45.4,469.27 H44.0 V478.46 H45.4" stroke="#1c191a" stroke-width="0.7" fill="none"/>
<path d="M45.4,460.09 H42.4 V473.87 H44.0" stroke="#1c191a" stroke-width="0.7" fill="none"/>
<path d="M45.4,496.83 H44.0 V506.01 H45.4" stroke="#1c191a" stroke-width="0.7" fill="none"/>
<path d="M45.4,487.64 H42.4 V501.42 H44.0" stroke="#1c191a" stroke-width="0.7" fill="none"/>
<path d="M45.4,524.38 H44.4 V533.56 H45.4" stroke="#1c191a" stroke-width="0.7" fill="none"/>
<path d="M45.4,515.19 H43.6 V528.97 H44.4" stroke="#1c191a" stroke-width="0.7" fill="none"/>
<path d="M45.4,551.93 H44.2 V561.11 H45.4" stroke="#1c191a" stroke-width="0.7" fill="none"/>
<path d="M45.4,542.74 H43.2 V556.52 H44.2" stroke="#1c191a" stroke-width="0.7" fill="none"/>
<path d="M43.6,522.08 H41.8 V549.63 H43.2" stroke="#1c191a" stroke-width="0.7" fill="none"/>
<path d="M42.4,494.53 H36.7 V535.85 H41.8" stroke="#1c191a" stroke-width="0.7" fill="none"/>
<path d="M42.4,466.98 H13.6 V515.19 H36.7" stroke="#1c191a" stroke-width="0.7" fill="none"/>
<text x="160.40" y="462.69" font-size="7.8" text-anchor="middle" fill="#333" stroke="#333" stroke-width="0.3">1</text>
<text x="50.02" y="572.00" font-size="7.8" text-anchor="middle" fill="#333" stroke="#333" stroke-width="0.3">1</text>
<text x="160.40" y="471.88" font-size="7.8" text-anchor="middle" fill="#333" stroke="#333" stroke-width="0.3">2</text>
<text x="59.27" y="572.00" font-size="7.8" text-anchor="middle" fill="#333" stroke="#333" stroke-width="0.3">2</text>
<text x="160.40" y="481.06" font-size="7.8" text-anchor="middle" fill="#333" stroke="#333" stroke-width="0.3">3</text>
<text x="68.53" y="572.00" font-size="7.8" text-anchor="middle" fill="#333" stroke="#333" stroke-width="0.3">3</text>
<text x="160.40" y="490.24" font-size="7.8" text-anchor="middle" fill="#333" stroke="#333" stroke-width="0.3">1</text>
<text x="77.78" y="572.00" font-size="7.8" text-anchor="middle" fill="#333" stroke="#333" stroke-width="0.3">1</text>
<text x="160.40" y="499.43" font-size="7.8" text-anchor="middle" fill="#333" stroke="#333" stroke-width="0.3">2</text>
<text x="87.03" y="572.00" font-size="7.8" text-anchor="middle" fill="#333" stroke="#333" stroke-width="0.3">2</text>
<text x="160.40" y="508.61" font-size="7.8" text-anchor="middle" fill="#333" stroke="#333" stroke-width="0.3">3</text>
<text x="96.28" y="572.00" font-size="7.8" text-anchor="middle" fill="#333" stroke="#333" stroke-width="0.3">3</text>
<text x="160.40" y="517.79" font-size="7.8" text-anchor="middle" fill="#333" stroke="#333" stroke-width="0.3">1</text>
<text x="105.53" y="572.00" font-size="7.8" text-anchor="middle" fill="#333" stroke="#333" stroke-width="0.3">1</text>
<text x="160.40" y="526.98" font-size="7.8" text-anchor="middle" fill="#333" stroke="#333" stroke-width="0.3">2</text>
<text x="114.78" y="572.00" font-size="7.8" text-anchor="middle" fill="#333" stroke="#333" stroke-width="0.3">2</text>
<text x="160.40" y="536.16" font-size="7.8" text-anchor="middle" fill="#333" stroke="#333" stroke-width="0.3">3</text>
<text x="124.03" y="572.00" font-size="7.8" text-anchor="middle" fill="#333" stroke="#333" stroke-width="0.3">3</text>
<text x="160.40" y="545.34" font-size="7.8" text-anchor="middle" fill="#333" stroke="#333" stroke-width="0.3">1</text>
<text x="133.28" y="572.00" font-size="7.8" text-anchor="middle" fill="#333" stroke="#333" stroke-width="0.3">1</text>
<text x="160.40" y="554.53" font-size="7.8" text-anchor="middle" fill="#333" stroke="#333" stroke-width="0.3">2</text>
<text x="142.53" y="572.00" font-size="7.8" text-anchor="middle" fill="#333" stroke="#333" stroke-width="0.3">2</text>
<text x="160.40" y="563.71" font-size="7.8" text-anchor="middle" fill="#333" stroke="#333" stroke-width="0.3">3</text>
<text x="151.78" y="572.00" font-size="7.8" text-anchor="middle" fill="#333" stroke="#333" stroke-width="0.3">3</text>
<line x1="164.30" y1="456.50" x2="164.30" y2="482.05" stroke="#6a6a6a" stroke-width="0.6"/>
<line x1="46.40" y1="574.60" x2="72.15" y2="574.60" stroke="#6a6a6a" stroke-width="0.6"/>
<line x1="164.30" y1="484.05" x2="164.30" y2="509.60" stroke="#6a6a6a" stroke-width="0.6"/>
<line x1="74.15" y1="574.60" x2="99.90" y2="574.60" stroke="#6a6a6a" stroke-width="0.6"/>
<line x1="164.30" y1="511.60" x2="164.30" y2="537.15" stroke="#6a6a6a" stroke-width="0.6"/>
<line x1="101.90" y1="574.60" x2="127.65" y2="574.60" stroke="#6a6a6a" stroke-width="0.6"/>
<line x1="164.30" y1="539.15" x2="164.30" y2="564.70" stroke="#6a6a6a" stroke-width="0.6"/>
<line x1="129.65" y1="574.60" x2="155.40" y2="574.60" stroke="#6a6a6a" stroke-width="0.6"/>
<text x="167.00" y="472.47" font-size="9.5" fill="#1c191a" stroke="#1c191a" stroke-width="0.3">iPSCs</text>
<text x="167.00" y="500.03" font-size="9.5" fill="#1c191a" stroke="#1c191a" stroke-width="0.3">ECFCs</text>
<text x="167.00" y="521.38" font-size="9.5" fill="#1c191a" stroke="#1c191a" stroke-width="0.3">iECs</text>
<text x="167.00" y="530.98" font-size="9.5" fill="#1c191a" stroke="#1c191a" stroke-width="0.3">modRNA-ETV2</text>
<text x="167.00" y="548.93" font-size="9.5" fill="#1c191a" stroke="#1c191a" stroke-width="0.3">iECs</text>
<text x="167.00" y="558.53" font-size="9.5" fill="#1c191a" stroke="#1c191a" stroke-width="0.3">Dox-ETV2</text>
<text x="62.48" y="578.40" font-size="9.5" text-anchor="end" fill="#1c191a" stroke="#1c191a" stroke-width="0.3" transform="rotate(-90 62.48 578.40)">iPSCs</text>
<text x="90.23" y="578.40" font-size="9.5" text-anchor="end" fill="#1c191a" stroke="#1c191a" stroke-width="0.3" transform="rotate(-90 90.23 578.40)">ECFCs</text>
<text x="113.18" y="578.40" font-size="9.5" text-anchor="end" fill="#1c191a" stroke="#1c191a" stroke-width="0.3" transform="rotate(-90 113.18 578.40)">iECs</text>
<text x="122.98" y="578.40" font-size="9.5" text-anchor="end" fill="#1c191a" stroke="#1c191a" stroke-width="0.3" transform="rotate(-90 122.98 578.40)">modRNA-ETV2</text>
<text x="140.93" y="578.40" font-size="9.5" text-anchor="end" fill="#1c191a" stroke="#1c191a" stroke-width="0.3" transform="rotate(-90 140.93 578.40)">iECs</text>
<text x="150.72" y="578.40" font-size="9.5" text-anchor="end" fill="#1c191a" stroke="#1c191a" stroke-width="0.3" transform="rotate(-90 150.72 578.40)">Dox-ETV2</text>
<defs><linearGradient id="gD" x1="0" y1="1" x2="0" y2="0"><stop offset="0.0000" stop-color="#2B5AA6"/><stop offset="0.1667" stop-color="#7EB1D6"/><stop offset="0.3333" stop-color="#DDF1F7"/><stop offset="0.5000" stop-color="#FFFFBC"/><stop offset="0.6667" stop-color="#FEDB7E"/><stop offset="0.8333" stop-color="#FB864B"/><stop offset="1.0000" stop-color="#CA1B1D"/></linearGradient></defs>
<rect x="248.20" y="473.40" width="6.10" height="91.10" fill="url(#gD)" stroke="none" stroke-width="0.7"/>
<text x="258.40" y="477.60" font-size="9.5" fill="#1c191a" stroke="#1c191a" stroke-width="0.3">1</text>
<text x="258.40" y="496.82" font-size="9.5" fill="#1c191a" stroke="#1c191a" stroke-width="0.3">0.9</text>
<text x="258.40" y="516.84" font-size="9.5" fill="#1c191a" stroke="#1c191a" stroke-width="0.3">0.8</text>
<text x="258.40" y="536.87" font-size="9.5" fill="#1c191a" stroke="#1c191a" stroke-width="0.3">0.7</text>
<text x="258.40" y="556.89" font-size="9.5" fill="#1c191a" stroke="#1c191a" stroke-width="0.3">0.6</text>
<text x="253.50" y="147.90" font-size="19.4" font-weight="bold" fill="#000">E</text>
<text x="329.60" y="152.20" font-size="9.4" text-anchor="middle" font-style="italic" fill="#1c191a" stroke="#1c191a" stroke-width="0.3">ETV2</text>
<rect x="330.25" y="197.27" width="10.30" height="65.33" fill="#e04b3c" stroke="#3a2a28" stroke-width="0.5"/>
<path d="M335.40,197.27 V194.95 M333.50,194.95 H337.30" stroke="#222" stroke-width="0.6" fill="none"/>
<path d="M298.60,178.00 V262.60" stroke="#4a4a4a" stroke-width="0.7" fill="none"/>
<line x1="298.25" y1="262.60" x2="358.40" y2="262.60" stroke="#1a1a1a" stroke-width="0.8"/>
<line x1="296.20" y1="262.60" x2="298.60" y2="262.60" stroke="#3a3a3a" stroke-width="0.7"/>
<text x="294.60" y="265.90" font-size="9.4" text-anchor="end" fill="#1c191a" stroke="#1c191a" stroke-width="0.3">0</text>
<line x1="296.20" y1="241.53" x2="298.60" y2="241.53" stroke="#3a3a3a" stroke-width="0.7"/>
<text x="294.60" y="244.83" font-size="9.4" text-anchor="end" fill="#1c191a" stroke="#1c191a" stroke-width="0.3">1000</text>
<line x1="296.20" y1="220.45" x2="298.60" y2="220.45" stroke="#3a3a3a" stroke-width="0.7"/>
<text x="294.60" y="223.75" font-size="9.4" text-anchor="end" fill="#1c191a" stroke="#1c191a" stroke-width="0.3">2000</text>
<line x1="296.20" y1="199.38" x2="298.60" y2="199.38" stroke="#3a3a3a" stroke-width="0.7"/>
<text x="294.60" y="202.68" font-size="9.4" text-anchor="end" fill="#1c191a" stroke="#1c191a" stroke-width="0.3">3000</text>
<line x1="296.20" y1="178.30" x2="298.60" y2="178.30" stroke="#3a3a3a" stroke-width="0.7"/>
<text x="294.60" y="181.60" font-size="9.4" text-anchor="end" fill="#1c191a" stroke="#1c191a" stroke-width="0.3">4000</text>
<line x1="309.30" y1="262.60" x2="309.30" y2="264.60" stroke="#3a3a3a" stroke-width="0.7"/>
<line x1="322.40" y1="262.60" x2="322.40" y2="264.60" stroke="#3a3a3a" stroke-width="0.7"/>
<line x1="335.40" y1="262.60" x2="335.40" y2="264.60" stroke="#3a3a3a" stroke-width="0.7"/>
<line x1="348.60" y1="262.60" x2="348.60" y2="264.60" stroke="#3a3a3a" stroke-width="0.7"/>
<circle cx="305.40" cy="262.30" r="1.35" fill="#000"/>
<circle cx="308.00" cy="262.30" r="1.35" fill="#000"/>
<circle cx="310.60" cy="262.30" r="1.35" fill="#000"/>
<circle cx="313.20" cy="262.30" r="1.35" fill="#000"/>
<circle cx="318.50" cy="262.30" r="1.35" fill="#000"/>
<circle cx="321.10" cy="262.30" r="1.35" fill="#000"/>
<circle cx="323.70" cy="262.30" r="1.35" fill="#000"/>
<circle cx="326.30" cy="262.30" r="1.35" fill="#000"/>
<circle cx="344.70" cy="262.30" r="1.35" fill="#000"/>
<circle cx="347.30" cy="262.30" r="1.35" fill="#000"/>
<circle cx="349.90" cy="262.30" r="1.35" fill="#000"/>
<circle cx="352.50" cy="262.30" r="1.35" fill="#000"/>
<circle cx="331.70" cy="193.50" r="1.35" fill="#000"/>
<circle cx="335.30" cy="194.60" r="1.35" fill="#000"/>
<circle cx="339.20" cy="194.00" r="1.35" fill="#000"/>
<circle cx="335.30" cy="205.00" r="1.35" fill="#000"/>
<text x="266.00" y="219.80" font-size="9.4" text-anchor="middle" font-style="italic" fill="#1c191a" stroke="#1c191a" stroke-width="0.3" transform="rotate(-90 266.00 219.80)">ETV2/10<tspan font-size="5.2" font-style="normal" dy="-3.4">3</tspan><tspan dy="3.4"> GAPDH</tspan></text>
<text x="310.90" y="269.90" font-size="9.7" text-anchor="end" fill="#1c191a" stroke="#1c191a" stroke-width="0.3" transform="rotate(-45 310.90 269.90)">iPSCs</text>
<text x="324.00" y="269.90" font-size="9.7" text-anchor="end" fill="#1c191a" stroke="#1c191a" stroke-width="0.3" transform="rotate(-45 324.00 269.90)">ECFCs</text>
<text x="335.40" y="272.20" font-size="9.7" text-anchor="middle" fill="#1c191a" stroke="#1c191a" stroke-width="0.3">P0</text>
<text x="349.60" y="272.20" font-size="9.7" text-anchor="middle" fill="#1c191a" stroke="#1c191a" stroke-width="0.3">P1</text>
<line x1="331.00" y1="276.30" x2="349.00" y2="276.30" stroke="#1a1a1a" stroke-width="0.8"/>
<text x="343.50" y="281.90" font-size="9.7" text-anchor="end" fill="#1c191a" stroke="#1c191a" stroke-width="0.3" transform="rotate(-45 343.50 281.90)">Dox-ETV2 iECs</text>
<path d="M322.40,174.30 V171.80 H348.70 V173.40" stroke="#3a3a3a" stroke-width="0.6" fill="none"/>
<text x="335.30" y="168.90" font-size="9.4" text-anchor="middle" font-style="italic" fill="#1c191a" stroke="#1c191a" stroke-width="0.3">n.s.</text>
<path d="M334.20,188.00 V186.40 H348.70 V202.90" stroke="#3a3a3a" stroke-width="0.6" fill="none"/>
<text x="341.80" y="188.50" font-size="12" text-anchor="middle" fill="#1c191a" stroke="#1c191a" stroke-width="0.15" >***</text>
<text x="442.20" y="152.20" font-size="9.4" text-anchor="middle" font-style="italic" fill="#1c191a" stroke="#1c191a" stroke-width="0.3">PECAM-1</text>
<rect x="427.85" y="241.53" width="10.30" height="21.07" fill="#3fa45b" stroke="#3a2a28" stroke-width="0.5"/>
<rect x="440.95" y="259.51" width="10.30" height="3.09" fill="#e04b3c" stroke="#3a2a28" stroke-width="0.5"/>
<rect x="454.15" y="212.30" width="10.30" height="50.30" fill="#e04b3c" stroke="#3a2a28" stroke-width="0.5"/>
<path d="M433.00,241.53 V240.96 M431.10,240.96 H434.90" stroke="#222" stroke-width="0.6" fill="none"/>
<path d="M459.30,212.30 V210.05 M457.40,210.05 H461.20" stroke="#222" stroke-width="0.6" fill="none"/>
<path d="M408.90,178.00 V262.60" stroke="#4a4a4a" stroke-width="0.7" fill="none"/>
<line x1="408.55" y1="262.60" x2="470.00" y2="262.60" stroke="#1a1a1a" stroke-width="0.8"/>
<line x1="406.50" y1="262.60" x2="408.90" y2="262.60" stroke="#3a3a3a" stroke-width="0.7"/>
<text x="404.90" y="265.90" font-size="9.4" text-anchor="end" fill="#1c191a" stroke="#1c191a" stroke-width="0.3">0</text>
<line x1="406.50" y1="234.50" x2="408.90" y2="234.50" stroke="#3a3a3a" stroke-width="0.7"/>
<text x="404.90" y="237.80" font-size="9.4" text-anchor="end" fill="#1c191a" stroke="#1c191a" stroke-width="0.3">500</text>
<line x1="406.50" y1="206.40" x2="408.90" y2="206.40" stroke="#3a3a3a" stroke-width="0.7"/>
<text x="404.90" y="209.70" font-size="9.4" text-anchor="end" fill="#1c191a" stroke="#1c191a" stroke-width="0.3">1000</text>
<line x1="406.50" y1="178.30" x2="408.90" y2="178.30" stroke="#3a3a3a" stroke-width="0.7"/>
<text x="404.90" y="181.60" font-size="9.4" text-anchor="end" fill="#1c191a" stroke="#1c191a" stroke-width="0.3">1500</text>
<line x1="420.20" y1="262.60" x2="420.20" y2="264.60" stroke="#3a3a3a" stroke-width="0.7"/>
<line x1="433.00" y1="262.60" x2="433.00" y2="264.60" stroke="#3a3a3a" stroke-width="0.7"/>
<line x1="446.10" y1="262.60" x2="446.10" y2="264.60" stroke="#3a3a3a" stroke-width="0.7"/>
<line x1="459.30" y1="262.60" x2="459.30" y2="264.60" stroke="#3a3a3a" stroke-width="0.7"/>
<circle cx="416.30" cy="262.30" r="1.35" fill="#000"/>
<circle cx="418.90" cy="262.30" r="1.35" fill="#000"/>
<circle cx="421.50" cy="262.30" r="1.35" fill="#000"/>
<circle cx="424.10" cy="262.30" r="1.35" fill="#000"/>
<circle cx="429.30" cy="242.40" r="1.35" fill="#000"/>
<circle cx="432.00" cy="241.60" r="1.35" fill="#000"/>
<circle cx="434.80" cy="241.10" r="1.35" fill="#000"/>
<circle cx="437.20" cy="239.70" r="1.35" fill="#000"/>
<circle cx="437.20" cy="241.60" r="1.35" fill="#000"/>
<circle cx="442.20" cy="259.70" r="1.35" fill="#000"/>
<circle cx="445.00" cy="258.60" r="1.35" fill="#000"/>
<circle cx="447.70" cy="259.10" r="1.35" fill="#000"/>
<circle cx="450.30" cy="259.10" r="1.35" fill="#000"/>
<circle cx="457.40" cy="208.00" r="1.35" fill="#000"/>
<circle cx="461.60" cy="206.90" r="1.35" fill="#000"/>
<circle cx="459.50" cy="211.70" r="1.35" fill="#000"/>
<circle cx="459.50" cy="222.20" r="1.35" fill="#000"/>
<text x="377.10" y="218.20" font-size="9.4" text-anchor="middle" font-style="italic" fill="#1c191a" stroke="#1c191a" stroke-width="0.3" transform="rotate(-90 377.10 218.20)">PECAM-1/10<tspan font-size="5.2" font-style="normal" dy="-3.4">3</tspan><tspan dy="3.4"> GAPDH</tspan></text>
<text x="421.80" y="269.90" font-size="9.7" text-anchor="end" fill="#1c191a" stroke="#1c191a" stroke-width="0.3" transform="rotate(-45 421.80 269.90)">iPSCs</text>
<text x="434.60" y="269.90" font-size="9.7" text-anchor="end" fill="#1c191a" stroke="#1c191a" stroke-width="0.3" transform="rotate(-45 434.60 269.90)">ECFCs</text>
<text x="446.10" y="272.20" font-size="9.7" text-anchor="middle" fill="#1c191a" stroke="#1c191a" stroke-width="0.3">P0</text>
<text x="460.30" y="272.20" font-size="9.7" text-anchor="middle" fill="#1c191a" stroke="#1c191a" stroke-width="0.3">P1</text>
<line x1="441.70" y1="276.30" x2="459.70" y2="276.30" stroke="#1a1a1a" stroke-width="0.8"/>
<text x="454.20" y="281.90" font-size="9.7" text-anchor="end" fill="#1c191a" stroke="#1c191a" stroke-width="0.3" transform="rotate(-45 454.20 281.90)">Dox-ETV2 iECs</text>
<path d="M432.40,198.00 V181.40 H459.80 V183.00" stroke="#3a3a3a" stroke-width="0.6" fill="none"/>
<text x="445.80" y="183.50" font-size="12" text-anchor="middle" fill="#1c191a" stroke="#1c191a" stroke-width="0.15" >***</text>
<path d="M446.10,215.80 V199.60 H459.80 V201.20" stroke="#3a3a3a" stroke-width="0.6" fill="none"/>
<text x="453.00" y="201.80" font-size="12" text-anchor="middle" fill="#1c191a" stroke="#1c191a" stroke-width="0.15" >***</text>
<text x="552.20" y="152.20" font-size="9.4" text-anchor="middle" font-style="italic" fill="#1c191a" stroke="#1c191a" stroke-width="0.3">CDH5</text>
<rect x="538.45" y="254.45" width="10.30" height="8.15" fill="#3fa45b" stroke="#3a2a28" stroke-width="0.5"/>
<rect x="551.45" y="237.59" width="10.30" height="25.01" fill="#e04b3c" stroke="#3a2a28" stroke-width="0.5"/>
<rect x="564.75" y="216.24" width="10.30" height="46.37" fill="#e04b3c" stroke="#3a2a28" stroke-width="0.5"/>
<path d="M556.60,237.59 V235.06 M554.70,235.06 H558.50" stroke="#222" stroke-width="0.6" fill="none"/>
<path d="M569.90,216.24 V213.14 M568.00,213.14 H571.80" stroke="#222" stroke-width="0.6" fill="none"/>
<path d="M519.70,178.00 V262.60" stroke="#4a4a4a" stroke-width="0.7" fill="none"/>
<line x1="519.35" y1="262.60" x2="580.00" y2="262.60" stroke="#1a1a1a" stroke-width="0.8"/>
<line x1="517.30" y1="262.60" x2="519.70" y2="262.60" stroke="#3a3a3a" stroke-width="0.7"/>
<text x="515.70" y="265.90" font-size="9.4" text-anchor="end" fill="#1c191a" stroke="#1c191a" stroke-width="0.3">0</text>
<line x1="517.30" y1="234.50" x2="519.70" y2="234.50" stroke="#3a3a3a" stroke-width="0.7"/>
<text x="515.70" y="237.80" font-size="9.4" text-anchor="end" fill="#1c191a" stroke="#1c191a" stroke-width="0.3">500</text>
<line x1="517.30" y1="206.40" x2="519.70" y2="206.40" stroke="#3a3a3a" stroke-width="0.7"/>
<text x="515.70" y="209.70" font-size="9.4" text-anchor="end" fill="#1c191a" stroke="#1c191a" stroke-width="0.3">1000</text>
<line x1="517.30" y1="178.30" x2="519.70" y2="178.30" stroke="#3a3a3a" stroke-width="0.7"/>
<text x="515.70" y="181.60" font-size="9.4" text-anchor="end" fill="#1c191a" stroke="#1c191a" stroke-width="0.3">1500</text>
<line x1="530.40" y1="262.60" x2="530.40" y2="264.60" stroke="#3a3a3a" stroke-width="0.7"/>
<line x1="543.60" y1="262.60" x2="543.60" y2="264.60" stroke="#3a3a3a" stroke-width="0.7"/>
<line x1="556.60" y1="262.60" x2="556.60" y2="264.60" stroke="#3a3a3a" stroke-width="0.7"/>
<line x1="569.90" y1="262.60" x2="569.90" y2="264.60" stroke="#3a3a3a" stroke-width="0.7"/>
<circle cx="526.50" cy="262.30" r="1.35" fill="#000"/>
<circle cx="529.10" cy="262.30" r="1.35" fill="#000"/>
<circle cx="531.70" cy="262.30" r="1.35" fill="#000"/>
<circle cx="534.30" cy="262.30" r="1.35" fill="#000"/>
<circle cx="539.80" cy="254.80" r="1.35" fill="#000"/>
<circle cx="542.40" cy="253.90" r="1.35" fill="#000"/>
<circle cx="545.00" cy="254.30" r="1.35" fill="#000"/>
<circle cx="547.60" cy="254.30" r="1.35" fill="#000"/>
<circle cx="556.60" cy="233.50" r="1.35" fill="#000"/>
<circle cx="556.60" cy="236.00" r="1.35" fill="#000"/>
<circle cx="556.60" cy="239.20" r="1.35" fill="#000"/>
<circle cx="556.60" cy="241.30" r="1.35" fill="#000"/>
<circle cx="569.80" cy="208.80" r="1.35" fill="#000"/>
<circle cx="567.90" cy="216.30" r="1.35" fill="#000"/>
<circle cx="571.90" cy="216.30" r="1.35" fill="#000"/>
<circle cx="569.80" cy="223.40" r="1.35" fill="#000"/>
<text x="486.60" y="223.00" font-size="9.4" text-anchor="middle" font-style="italic" fill="#1c191a" stroke="#1c191a" stroke-width="0.3" transform="rotate(-90 486.60 223.00)">CDH5/10<tspan font-size="5.2" font-style="normal" dy="-3.4">3</tspan><tspan dy="3.4"> GAPDH</tspan></text>
<text x="532.00" y="269.90" font-size="9.7" text-anchor="end" fill="#1c191a" stroke="#1c191a" stroke-width="0.3" transform="rotate(-45 532.00 269.90)">iPSCs</text>
<text x="545.20" y="269.90" font-size="9.7" text-anchor="end" fill="#1c191a" stroke="#1c191a" stroke-width="0.3" transform="rotate(-45 545.20 269.90)">ECFCs</text>
<text x="556.60" y="272.20" font-size="9.7" text-anchor="middle" fill="#1c191a" stroke="#1c191a" stroke-width="0.3">P0</text>
<text x="570.90" y="272.20" font-size="9.7" text-anchor="middle" fill="#1c191a" stroke="#1c191a" stroke-width="0.3">P1</text>
<line x1="552.20" y1="276.30" x2="570.30" y2="276.30" stroke="#1a1a1a" stroke-width="0.8"/>
<text x="564.75" y="281.90" font-size="9.7" text-anchor="end" fill="#1c191a" stroke="#1c191a" stroke-width="0.3" transform="rotate(-45 564.75 281.90)">Dox-ETV2 iECs</text>
<path d="M543.70,202.90 V186.40 H570.80 V188.00" stroke="#3a3a3a" stroke-width="0.6" fill="none"/>
<text x="556.90" y="188.90" font-size="12" text-anchor="middle" fill="#1c191a" stroke="#1c191a" stroke-width="0.15" >***</text>
<path d="M556.60,217.40 V200.90 H570.80 V202.50" stroke="#3a3a3a" stroke-width="0.6" fill="none"/>
<text x="563.50" y="203.10" font-size="12" text-anchor="middle" fill="#1c191a" stroke="#1c191a" stroke-width="0.15" >***</text>
<text x="657.00" y="152.20" font-size="9.4" text-anchor="middle" font-style="italic" fill="#1c191a" stroke="#1c191a" stroke-width="0.3">VWF</text>
<rect x="642.85" y="204.12" width="10.30" height="58.48" fill="#3fa45b" stroke="#3a2a28" stroke-width="0.5"/>
<rect x="655.85" y="260.70" width="10.30" height="1.90" fill="#e04b3c" stroke="#3a2a28" stroke-width="0.5"/>
<rect x="669.15" y="232.04" width="10.30" height="30.56" fill="#e04b3c" stroke="#3a2a28" stroke-width="0.5"/>
<path d="M648.00,204.12 V202.01 M646.10,202.01 H649.90" stroke="#222" stroke-width="0.6" fill="none"/>
<path d="M674.30,232.04 V229.41 M672.40,229.41 H676.20" stroke="#222" stroke-width="0.6" fill="none"/>
<path d="M624.00,178.00 V262.60" stroke="#4a4a4a" stroke-width="0.7" fill="none"/>
<line x1="623.65" y1="262.60" x2="685.00" y2="262.60" stroke="#1a1a1a" stroke-width="0.8"/>
<line x1="621.60" y1="262.60" x2="624.00" y2="262.60" stroke="#3a3a3a" stroke-width="0.7"/>
<text x="620.00" y="265.90" font-size="9.4" text-anchor="end" fill="#1c191a" stroke="#1c191a" stroke-width="0.3">0</text>
<line x1="621.60" y1="241.53" x2="624.00" y2="241.53" stroke="#3a3a3a" stroke-width="0.7"/>
<text x="620.00" y="244.83" font-size="9.4" text-anchor="end" fill="#1c191a" stroke="#1c191a" stroke-width="0.3">20</text>
<line x1="621.60" y1="220.45" x2="624.00" y2="220.45" stroke="#3a3a3a" stroke-width="0.7"/>
<text x="620.00" y="223.75" font-size="9.4" text-anchor="end" fill="#1c191a" stroke="#1c191a" stroke-width="0.3">40</text>
<line x1="621.60" y1="199.38" x2="624.00" y2="199.38" stroke="#3a3a3a" stroke-width="0.7"/>
<text x="620.00" y="202.68" font-size="9.4" text-anchor="end" fill="#1c191a" stroke="#1c191a" stroke-width="0.3">60</text>
<line x1="621.60" y1="178.30" x2="624.00" y2="178.30" stroke="#3a3a3a" stroke-width="0.7"/>
<text x="620.00" y="181.60" font-size="9.4" text-anchor="end" fill="#1c191a" stroke="#1c191a" stroke-width="0.3">80</text>
<line x1="634.80" y1="262.60" x2="634.80" y2="264.60" stroke="#3a3a3a" stroke-width="0.7"/>
<line x1="648.00" y1="262.60" x2="648.00" y2="264.60" stroke="#3a3a3a" stroke-width="0.7"/>
<line x1="661.00" y1="262.60" x2="661.00" y2="264.60" stroke="#3a3a3a" stroke-width="0.7"/>
<line x1="674.30" y1="262.60" x2="674.30" y2="264.60" stroke="#3a3a3a" stroke-width="0.7"/>
<circle cx="630.90" cy="262.30" r="1.35" fill="#000"/>
<circle cx="633.50" cy="262.30" r="1.35" fill="#000"/>
<circle cx="636.10" cy="262.30" r="1.35" fill="#000"/>
<circle cx="638.70" cy="262.30" r="1.35" fill="#000"/>
<circle cx="646.10" cy="201.20" r="1.35" fill="#000"/>
<circle cx="649.30" cy="200.90" r="1.35" fill="#000"/>
<circle cx="647.70" cy="205.30" r="1.35" fill="#000"/>
<circle cx="648.00" cy="208.50" r="1.35" fill="#000"/>
<circle cx="657.20" cy="260.60" r="1.35" fill="#000"/>
<circle cx="659.80" cy="260.00" r="1.35" fill="#000"/>
<circle cx="662.40" cy="260.60" r="1.35" fill="#000"/>
<circle cx="665.00" cy="260.00" r="1.35" fill="#000"/>
<circle cx="671.90" cy="229.50" r="1.35" fill="#000"/>
<circle cx="676.00" cy="227.90" r="1.35" fill="#000"/>
<circle cx="673.90" cy="232.70" r="1.35" fill="#000"/>
<circle cx="673.90" cy="236.80" r="1.35" fill="#000"/>
<text x="600.80" y="220.60" font-size="9.4" text-anchor="middle" font-style="italic" fill="#1c191a" stroke="#1c191a" stroke-width="0.3" transform="rotate(-90 600.80 220.60)">VWF/10<tspan font-size="5.2" font-style="normal" dy="-3.4">3</tspan><tspan dy="3.4"> GAPDH</tspan></text>
<text x="636.40" y="269.90" font-size="9.7" text-anchor="end" fill="#1c191a" stroke="#1c191a" stroke-width="0.3" transform="rotate(-45 636.40 269.90)">iPSCs</text>
<text x="649.60" y="269.90" font-size="9.7" text-anchor="end" fill="#1c191a" stroke="#1c191a" stroke-width="0.3" transform="rotate(-45 649.60 269.90)">ECFCs</text>
<text x="661.00" y="272.20" font-size="9.7" text-anchor="middle" fill="#1c191a" stroke="#1c191a" stroke-width="0.3">P0</text>
<text x="675.30" y="272.20" font-size="9.7" text-anchor="middle" fill="#1c191a" stroke="#1c191a" stroke-width="0.3">P1</text>
<line x1="656.60" y1="276.30" x2="674.70" y2="276.30" stroke="#1a1a1a" stroke-width="0.8"/>
<text x="669.15" y="281.90" font-size="9.7" text-anchor="end" fill="#1c191a" stroke="#1c191a" stroke-width="0.3" transform="rotate(-45 669.15 281.90)">Dox-ETV2 iECs</text>
<path d="M647.20,191.20 V189.60 H674.70 V198.80" stroke="#3a3a3a" stroke-width="0.6" fill="none"/>
<text x="660.90" y="191.80" font-size="12" text-anchor="middle" fill="#1c191a" stroke="#1c191a" stroke-width="0.15" >***</text>
<path d="M660.10,233.90 V217.40 H674.70 V219.00" stroke="#3a3a3a" stroke-width="0.6" fill="none"/>
<text x="667.60" y="219.60" font-size="12" text-anchor="middle" fill="#1c191a" stroke="#1c191a" stroke-width="0.15" >***</text>
<text x="395.60" y="357.10" font-size="9.4" text-anchor="middle" font-style="italic" fill="#1c191a" stroke="#1c191a" stroke-width="0.3">KDR</text>
<rect x="383.45" y="456.71" width="10.30" height="3.79" fill="#3fa45b" stroke="#3a2a28" stroke-width="0.5"/>
<rect x="396.45" y="446.17" width="10.30" height="14.33" fill="#e04b3c" stroke="#3a2a28" stroke-width="0.5"/>
<rect x="409.75" y="408.23" width="10.30" height="52.27" fill="#e04b3c" stroke="#3a2a28" stroke-width="0.5"/>
<path d="M414.90,408.23 V402.97 M413.00,402.97 H416.80" stroke="#222" stroke-width="0.6" fill="none"/>
<path d="M364.90,375.90 V460.50" stroke="#4a4a4a" stroke-width="0.7" fill="none"/>
<line x1="364.55" y1="460.50" x2="424.80" y2="460.50" stroke="#1a1a1a" stroke-width="0.8"/>
<line x1="362.50" y1="460.50" x2="364.90" y2="460.50" stroke="#3a3a3a" stroke-width="0.7"/>
<text x="360.90" y="463.80" font-size="9.4" text-anchor="end" fill="#1c191a" stroke="#1c191a" stroke-width="0.3">0</text>
<line x1="362.50" y1="439.43" x2="364.90" y2="439.43" stroke="#3a3a3a" stroke-width="0.7"/>
<text x="360.90" y="442.73" font-size="9.4" text-anchor="end" fill="#1c191a" stroke="#1c191a" stroke-width="0.3">500</text>
<line x1="362.50" y1="418.35" x2="364.90" y2="418.35" stroke="#3a3a3a" stroke-width="0.7"/>
<text x="360.90" y="421.65" font-size="9.4" text-anchor="end" fill="#1c191a" stroke="#1c191a" stroke-width="0.3">1000</text>
<line x1="362.50" y1="397.27" x2="364.90" y2="397.27" stroke="#3a3a3a" stroke-width="0.7"/>
<text x="360.90" y="400.57" font-size="9.4" text-anchor="end" fill="#1c191a" stroke="#1c191a" stroke-width="0.3">1500</text>
<line x1="362.50" y1="376.20" x2="364.90" y2="376.20" stroke="#3a3a3a" stroke-width="0.7"/>
<text x="360.90" y="379.50" font-size="9.4" text-anchor="end" fill="#1c191a" stroke="#1c191a" stroke-width="0.3">2000</text>
<line x1="375.40" y1="460.50" x2="375.40" y2="462.50" stroke="#3a3a3a" stroke-width="0.7"/>
<line x1="388.60" y1="460.50" x2="388.60" y2="462.50" stroke="#3a3a3a" stroke-width="0.7"/>
<line x1="401.60" y1="460.50" x2="401.60" y2="462.50" stroke="#3a3a3a" stroke-width="0.7"/>
<line x1="414.90" y1="460.50" x2="414.90" y2="462.50" stroke="#3a3a3a" stroke-width="0.7"/>
<circle cx="371.50" cy="460.00" r="1.35" fill="#000"/>
<circle cx="374.10" cy="460.00" r="1.35" fill="#000"/>
<circle cx="376.70" cy="460.00" r="1.35" fill="#000"/>
<circle cx="379.30" cy="460.00" r="1.35" fill="#000"/>
<circle cx="384.80" cy="457.10" r="1.35" fill="#000"/>
<circle cx="387.40" cy="456.60" r="1.35" fill="#000"/>
<circle cx="390.00" cy="456.90" r="1.35" fill="#000"/>
<circle cx="392.60" cy="456.60" r="1.35" fill="#000"/>
<circle cx="399.30" cy="444.70" r="1.35" fill="#000"/>
<circle cx="403.40" cy="444.00" r="1.35" fill="#000"/>
<circle cx="399.30" cy="447.60" r="1.35" fill="#000"/>
<circle cx="403.40" cy="447.60" r="1.35" fill="#000"/>
<circle cx="414.70" cy="397.50" r="1.35" fill="#000"/>
<circle cx="412.60" cy="408.00" r="1.35" fill="#000"/>
<circle cx="416.60" cy="409.10" r="1.35" fill="#000"/>
<circle cx="414.70" cy="424.20" r="1.35" fill="#000"/>
<text x="330.20" y="417.70" font-size="9.4" text-anchor="middle" font-style="italic" fill="#1c191a" stroke="#1c191a" stroke-width="0.3" transform="rotate(-90 330.20 417.70)">KDR/10<tspan font-size="5.2" font-style="normal" dy="-3.4">3</tspan><tspan dy="3.4"> GAPDH</tspan></text>
<text x="377.00" y="467.80" font-size="9.7" text-anchor="end" fill="#1c191a" stroke="#1c191a" stroke-width="0.3" transform="rotate(-45 377.00 467.80)">iPSCs</text>
<text x="390.20" y="467.80" font-size="9.7" text-anchor="end" fill="#1c191a" stroke="#1c191a" stroke-width="0.3" transform="rotate(-45 390.20 467.80)">ECFCs</text>
<text x="401.60" y="470.10" font-size="9.7" text-anchor="middle" fill="#1c191a" stroke="#1c191a" stroke-width="0.3">P0</text>
<text x="415.90" y="470.10" font-size="9.7" text-anchor="middle" fill="#1c191a" stroke="#1c191a" stroke-width="0.3">P1</text>
<line x1="397.20" y1="474.90" x2="415.30" y2="474.90" stroke="#1a1a1a" stroke-width="0.8"/>
<text x="409.75" y="480.50" font-size="9.7" text-anchor="end" fill="#1c191a" stroke="#1c191a" stroke-width="0.3" transform="rotate(-45 409.75 480.50)">Dox-ETV2 iECs</text>
<path d="M388.40,393.50 V377.30 H415.30 V378.90" stroke="#3a3a3a" stroke-width="0.6" fill="none"/>
<text x="401.30" y="379.50" font-size="12" text-anchor="middle" fill="#1c191a" stroke="#1c191a" stroke-width="0.15" >***</text>
<path d="M401.40,407.50 V390.70 H415.30 V392.30" stroke="#3a3a3a" stroke-width="0.6" fill="none"/>
<text x="408.50" y="393.10" font-size="12" text-anchor="middle" fill="#1c191a" stroke="#1c191a" stroke-width="0.15" >***</text>
<text x="501.10" y="357.10" font-size="9.4" text-anchor="middle" font-style="italic" fill="#1c191a" stroke="#1c191a" stroke-width="0.3">NOS3</text>
<rect x="489.55" y="397.80" width="10.30" height="62.70" fill="#3fa45b" stroke="#3a2a28" stroke-width="0.5"/>
<rect x="502.75" y="434.16" width="10.30" height="26.34" fill="#e04b3c" stroke="#3a2a28" stroke-width="0.5"/>
<rect x="516.05" y="412.55" width="10.30" height="47.95" fill="#e04b3c" stroke="#3a2a28" stroke-width="0.5"/>
<path d="M494.70,397.80 V396.01 M492.80,396.01 H496.60" stroke="#222" stroke-width="0.6" fill="none"/>
<path d="M521.20,412.55 V407.29 M519.30,407.29 H523.10" stroke="#222" stroke-width="0.6" fill="none"/>
<path d="M471.40,375.90 V460.50" stroke="#4a4a4a" stroke-width="0.7" fill="none"/>
<line x1="471.05" y1="460.50" x2="527.40" y2="460.50" stroke="#1a1a1a" stroke-width="0.8"/>
<line x1="469.00" y1="460.50" x2="471.40" y2="460.50" stroke="#3a3a3a" stroke-width="0.7"/>
<text x="467.40" y="463.80" font-size="9.4" text-anchor="end" fill="#1c191a" stroke="#1c191a" stroke-width="0.3">0</text>
<line x1="469.00" y1="439.43" x2="471.40" y2="439.43" stroke="#3a3a3a" stroke-width="0.7"/>
<text x="467.40" y="442.73" font-size="9.4" text-anchor="end" fill="#1c191a" stroke="#1c191a" stroke-width="0.3">20</text>
<line x1="469.00" y1="418.35" x2="471.40" y2="418.35" stroke="#3a3a3a" stroke-width="0.7"/>
<text x="467.40" y="421.65" font-size="9.4" text-anchor="end" fill="#1c191a" stroke="#1c191a" stroke-width="0.3">40</text>
<line x1="469.00" y1="397.27" x2="471.40" y2="397.27" stroke="#3a3a3a" stroke-width="0.7"/>
<text x="467.40" y="400.57" font-size="9.4" text-anchor="end" fill="#1c191a" stroke="#1c191a" stroke-width="0.3">60</text>
<line x1="469.00" y1="376.20" x2="471.40" y2="376.20" stroke="#3a3a3a" stroke-width="0.7"/>
<text x="467.40" y="379.50" font-size="9.4" text-anchor="end" fill="#1c191a" stroke="#1c191a" stroke-width="0.3">80</text>
<line x1="481.40" y1="460.50" x2="481.40" y2="462.50" stroke="#3a3a3a" stroke-width="0.7"/>
<line x1="494.70" y1="460.50" x2="494.70" y2="462.50" stroke="#3a3a3a" stroke-width="0.7"/>
<line x1="507.90" y1="460.50" x2="507.90" y2="462.50" stroke="#3a3a3a" stroke-width="0.7"/>
<line x1="521.20" y1="460.50" x2="521.20" y2="462.50" stroke="#3a3a3a" stroke-width="0.7"/>
<circle cx="477.50" cy="460.00" r="1.35" fill="#000"/>
<circle cx="480.10" cy="460.00" r="1.35" fill="#000"/>
<circle cx="482.70" cy="460.00" r="1.35" fill="#000"/>
<circle cx="485.30" cy="460.00" r="1.35" fill="#000"/>
<circle cx="494.60" cy="393.50" r="1.35" fill="#000"/>
<circle cx="490.80" cy="400.20" r="1.35" fill="#000"/>
<circle cx="494.60" cy="399.00" r="1.35" fill="#000"/>
<circle cx="498.70" cy="399.10" r="1.35" fill="#000"/>
<circle cx="505.60" cy="433.00" r="1.35" fill="#000"/>
<circle cx="509.70" cy="432.60" r="1.35" fill="#000"/>
<circle cx="506.40" cy="435.50" r="1.35" fill="#000"/>
<circle cx="509.70" cy="435.50" r="1.35" fill="#000"/>
<circle cx="521.00" cy="398.00" r="1.35" fill="#000"/>
<circle cx="521.00" cy="410.10" r="1.35" fill="#000"/>
<circle cx="518.90" cy="420.90" r="1.35" fill="#000"/>
<circle cx="522.90" cy="420.90" r="1.35" fill="#000"/>
<text x="446.60" y="418.50" font-size="9.4" text-anchor="middle" font-style="italic" fill="#1c191a" stroke="#1c191a" stroke-width="0.3" transform="rotate(-90 446.60 418.50)">NOS3/10<tspan font-size="5.2" font-style="normal" dy="-3.4">3</tspan><tspan dy="3.4"> GAPDH</tspan></text>
<text x="483.00" y="467.80" font-size="9.7" text-anchor="end" fill="#1c191a" stroke="#1c191a" stroke-width="0.3" transform="rotate(-45 483.00 467.80)">iPSCs</text>
<text x="496.30" y="467.80" font-size="9.7" text-anchor="end" fill="#1c191a" stroke="#1c191a" stroke-width="0.3" transform="rotate(-45 496.30 467.80)">ECFCs</text>
<text x="507.90" y="470.10" font-size="9.7" text-anchor="middle" fill="#1c191a" stroke="#1c191a" stroke-width="0.3">P0</text>
<text x="522.20" y="470.10" font-size="9.7" text-anchor="middle" fill="#1c191a" stroke="#1c191a" stroke-width="0.3">P1</text>
<line x1="503.50" y1="474.90" x2="521.60" y2="474.90" stroke="#1a1a1a" stroke-width="0.8"/>
<text x="516.05" y="480.50" font-size="9.7" text-anchor="end" fill="#1c191a" stroke="#1c191a" stroke-width="0.3" transform="rotate(-45 516.05 480.50)">Dox-ETV2 iECs</text>
<path d="M494.30,376.50 V376.50 H521.80 V378.60" stroke="#3a3a3a" stroke-width="0.6" fill="none"/>
<text x="507.70" y="378.30" font-size="12" text-anchor="middle" fill="#1c191a" stroke="#1c191a" stroke-width="0.15" >**</text>
<path d="M506.80,408.00 V391.50 H521.80 V393.10" stroke="#3a3a3a" stroke-width="0.6" fill="none"/>
<text x="514.00" y="393.90" font-size="12" text-anchor="middle" fill="#1c191a" stroke="#1c191a" stroke-width="0.15" >***</text>
<text x="592.20" y="357.10" font-size="9.4" text-anchor="middle" font-style="italic" fill="#1c191a" stroke="#1c191a" stroke-width="0.3">OCT4</text>
<rect x="575.25" y="393.06" width="10.30" height="67.44" fill="#4a86e0" stroke="#3a2a28" stroke-width="0.5"/>
<rect x="601.45" y="443.11" width="10.30" height="17.39" fill="#e04b3c" stroke="#3a2a28" stroke-width="0.5"/>
<rect x="614.65" y="453.65" width="10.30" height="6.85" fill="#e04b3c" stroke="#3a2a28" stroke-width="0.5"/>
<path d="M580.40,393.06 V389.37 M578.50,389.37 H582.30" stroke="#222" stroke-width="0.6" fill="none"/>
<path d="M606.60,443.11 V439.43 M604.70,439.43 H608.50" stroke="#222" stroke-width="0.6" fill="none"/>
<path d="M570.40,375.90 V460.50" stroke="#4a4a4a" stroke-width="0.7" fill="none"/>
<line x1="570.05" y1="460.50" x2="629.40" y2="460.50" stroke="#1a1a1a" stroke-width="0.8"/>
<line x1="568.00" y1="460.50" x2="570.40" y2="460.50" stroke="#3a3a3a" stroke-width="0.7"/>
<text x="566.40" y="463.80" font-size="9.4" text-anchor="end" fill="#1c191a" stroke="#1c191a" stroke-width="0.3">0</text>
<line x1="568.00" y1="439.43" x2="570.40" y2="439.43" stroke="#3a3a3a" stroke-width="0.7"/>
<text x="566.40" y="442.73" font-size="9.4" text-anchor="end" fill="#1c191a" stroke="#1c191a" stroke-width="0.3">2</text>
<line x1="568.00" y1="418.35" x2="570.40" y2="418.35" stroke="#3a3a3a" stroke-width="0.7"/>
<text x="566.40" y="421.65" font-size="9.4" text-anchor="end" fill="#1c191a" stroke="#1c191a" stroke-width="0.3">4</text>
<line x1="568.00" y1="397.27" x2="570.40" y2="397.27" stroke="#3a3a3a" stroke-width="0.7"/>
<text x="566.40" y="400.57" font-size="9.4" text-anchor="end" fill="#1c191a" stroke="#1c191a" stroke-width="0.3">6</text>
<line x1="568.00" y1="376.20" x2="570.40" y2="376.20" stroke="#3a3a3a" stroke-width="0.7"/>
<text x="566.40" y="379.50" font-size="9.4" text-anchor="end" fill="#1c191a" stroke="#1c191a" stroke-width="0.3">8</text>
<line x1="580.40" y1="460.50" x2="580.40" y2="462.50" stroke="#3a3a3a" stroke-width="0.7"/>
<line x1="593.50" y1="460.50" x2="593.50" y2="462.50" stroke="#3a3a3a" stroke-width="0.7"/>
<line x1="606.60" y1="460.50" x2="606.60" y2="462.50" stroke="#3a3a3a" stroke-width="0.7"/>
<line x1="619.80" y1="460.50" x2="619.80" y2="462.50" stroke="#3a3a3a" stroke-width="0.7"/>
<circle cx="589.60" cy="459.80" r="1.35" fill="#000"/>
<circle cx="592.20" cy="459.80" r="1.35" fill="#000"/>
<circle cx="594.80" cy="459.80" r="1.35" fill="#000"/>
<circle cx="597.40" cy="459.80" r="1.35" fill="#000"/>
<circle cx="576.80" cy="388.90" r="1.35" fill="#000"/>
<circle cx="580.60" cy="388.90" r="1.35" fill="#000"/>
<circle cx="584.40" cy="388.90" r="1.35" fill="#000"/>
<circle cx="580.60" cy="403.20" r="1.35" fill="#000"/>
<circle cx="604.60" cy="439.50" r="1.35" fill="#000"/>
<circle cx="608.70" cy="439.50" r="1.35" fill="#000"/>
<circle cx="606.40" cy="444.40" r="1.35" fill="#000"/>
<circle cx="606.40" cy="448.40" r="1.35" fill="#000"/>
<circle cx="616.40" cy="454.00" r="1.35" fill="#000"/>
<circle cx="619.70" cy="451.30" r="1.35" fill="#000"/>
<circle cx="621.30" cy="453.20" r="1.35" fill="#000"/>
<circle cx="623.70" cy="454.50" r="1.35" fill="#000"/>
<text x="550.20" y="418.50" font-size="9.4" text-anchor="middle" font-style="italic" fill="#1c191a" stroke="#1c191a" stroke-width="0.3" transform="rotate(-90 550.20 418.50)">POU5F1/10<tspan font-size="5.2" font-style="normal" dy="-3.4">3</tspan><tspan dy="3.4"> GAPDH</tspan></text>
<text x="582.00" y="467.80" font-size="9.7" text-anchor="end" fill="#1c191a" stroke="#1c191a" stroke-width="0.3" transform="rotate(-45 582.00 467.80)">iPSCs</text>
<text x="595.10" y="467.80" font-size="9.7" text-anchor="end" fill="#1c191a" stroke="#1c191a" stroke-width="0.3" transform="rotate(-45 595.10 467.80)">ECFCs</text>
<text x="606.60" y="470.10" font-size="9.7" text-anchor="middle" fill="#1c191a" stroke="#1c191a" stroke-width="0.3">P0</text>
<text x="620.80" y="470.10" font-size="9.7" text-anchor="middle" fill="#1c191a" stroke="#1c191a" stroke-width="0.3">P1</text>
<line x1="602.20" y1="474.90" x2="620.20" y2="474.90" stroke="#1a1a1a" stroke-width="0.8"/>
<text x="614.70" y="480.50" font-size="9.7" text-anchor="end" fill="#1c191a" stroke="#1c191a" stroke-width="0.3" transform="rotate(-45 614.70 480.50)">Dox-ETV2 iECs</text>
<path d="M593.30,418.00 V415.60 H620.10 V415.60" stroke="#3a3a3a" stroke-width="0.6" fill="none"/>
<text x="606.40" y="412.50" font-size="9.4" text-anchor="middle" font-style="italic" fill="#1c191a" stroke="#1c191a" stroke-width="0.3">n.s.</text>
<line x1="606.30" y1="431.80" x2="620.10" y2="431.80" stroke="#3a3a3a" stroke-width="0.6"/>
<text x="613.70" y="427.70" font-size="9.4" text-anchor="middle" font-style="italic" fill="#1c191a" stroke="#1c191a" stroke-width="0.3">n.s.</text>
<text x="0.90" y="677.70" font-size="19.4" font-weight="bold" fill="#000">F</text>
<text x="215.00" y="679.40" font-size="9.6" text-anchor="middle" fill="#1c191a" stroke="#1c191a" stroke-width="0.3">Proteomics</text>
<rect x="103.30" y="745.20" width="9.65" height="15.45" fill="#b3bbfa" stroke="none" stroke-width="0.7"/>
<rect x="112.90" y="745.20" width="9.65" height="15.45" fill="#9ba5f8" stroke="none" stroke-width="0.7"/>
<rect x="122.51" y="745.20" width="9.65" height="15.45" fill="#8f9bf7" stroke="none" stroke-width="0.7"/>
<rect x="132.11" y="745.20" width="9.65" height="15.45" fill="#f7f8fe" stroke="none" stroke-width="0.7"/>
<rect x="141.72" y="745.20" width="9.65" height="15.45" fill="#7685f5" stroke="none" stroke-width="0.7"/>
<rect x="151.32" y="745.20" width="9.65" height="15.45" fill="#5e70f4" stroke="none" stroke-width="0.7"/>
<rect x="160.93" y="745.20" width="9.65" height="15.45" fill="#eff1fe" stroke="none" stroke-width="0.7"/>
<rect x="170.53" y="745.20" width="9.65" height="15.45" fill="#8694f6" stroke="none" stroke-width="0.7"/>
<rect x="180.14" y="745.20" width="9.65" height="15.45" fill="#bfc6fa" stroke="none" stroke-width="0.7"/>
<rect x="189.74" y="745.20" width="9.65" height="15.45" fill="#364cf1" stroke="none" stroke-width="0.7"/>
<rect x="199.35" y="745.20" width="9.65" height="15.45" fill="#9fa9f8" stroke="none" stroke-width="0.7"/>
<rect x="208.95" y="745.20" width="9.65" height="15.45" fill="#bfc6fa" stroke="none" stroke-width="0.7"/>
<rect x="218.55" y="745.20" width="9.65" height="15.45" fill="#fbfbff" stroke="none" stroke-width="0.7"/>
<rect x="228.16" y="745.20" width="9.65" height="15.45" fill="#fbfbff" stroke="none" stroke-width="0.7"/>
<rect x="237.76" y="745.20" width="9.65" height="15.45" fill="#fbfbff" stroke="none" stroke-width="0.7"/>
<rect x="247.37" y="745.20" width="9.65" height="15.45" fill="#fbfbff" stroke="none" stroke-width="0.7"/>
<rect x="256.97" y="745.20" width="9.65" height="15.45" fill="#fbfbff" stroke="none" stroke-width="0.7"/>
<rect x="266.58" y="745.20" width="9.65" height="15.45" fill="#fbfbff" stroke="none" stroke-width="0.7"/>
<rect x="276.18" y="745.20" width="9.65" height="15.45" fill="#fbfbff" stroke="none" stroke-width="0.7"/>
<rect x="285.79" y="745.20" width="9.65" height="15.45" fill="#eff1fe" stroke="none" stroke-width="0.7"/>
<rect x="295.39" y="745.20" width="9.65" height="15.45" fill="#f7f8fe" stroke="none" stroke-width="0.7"/>
<rect x="305.00" y="745.20" width="9.65" height="15.45" fill="#f7f8fe" stroke="none" stroke-width="0.7"/>
<rect x="103.30" y="760.60" width="9.65" height="15.45" fill="#a7b0f9" stroke="none" stroke-width="0.7"/>
<rect x="112.90" y="760.60" width="9.65" height="15.45" fill="#a3adf8" stroke="none" stroke-width="0.7"/>
<rect x="122.51" y="760.60" width="9.65" height="15.45" fill="#d3d8fc" stroke="none" stroke-width="0.7"/>
<rect x="132.11" y="760.60" width="9.65" height="15.45" fill="#0e28ee" stroke="none" stroke-width="0.7"/>
<rect x="141.72" y="760.60" width="9.65" height="15.45" fill="#dfe2fd" stroke="none" stroke-width="0.7"/>
<rect x="151.32" y="760.60" width="9.65" height="15.45" fill="#eff1fe" stroke="none" stroke-width="0.7"/>
<rect x="160.93" y="760.60" width="9.65" height="15.45" fill="#7685f5" stroke="none" stroke-width="0.7"/>
<rect x="170.53" y="760.60" width="9.65" height="15.45" fill="#afb7f9" stroke="none" stroke-width="0.7"/>
<rect x="180.14" y="760.60" width="9.65" height="15.45" fill="#8f9bf7" stroke="none" stroke-width="0.7"/>
<rect x="189.74" y="760.60" width="9.65" height="15.45" fill="#dfe2fd" stroke="none" stroke-width="0.7"/>
<rect x="199.35" y="760.60" width="9.65" height="15.45" fill="#d7dbfc" stroke="none" stroke-width="0.7"/>
<rect x="208.95" y="760.60" width="9.65" height="15.45" fill="#c7cdfb" stroke="none" stroke-width="0.7"/>
<rect x="218.55" y="760.60" width="9.65" height="15.45" fill="#fbfbff" stroke="none" stroke-width="0.7"/>
<rect x="228.16" y="760.60" width="9.65" height="15.45" fill="#fbfbff" stroke="none" stroke-width="0.7"/>
<rect x="237.76" y="760.60" width="9.65" height="15.45" fill="#fbfbff" stroke="none" stroke-width="0.7"/>
<rect x="247.37" y="760.60" width="9.65" height="15.45" fill="#fbfbff" stroke="none" stroke-width="0.7"/>
<rect x="256.97" y="760.60" width="9.65" height="15.45" fill="#fbfbff" stroke="none" stroke-width="0.7"/>
<rect x="266.58" y="760.60" width="9.65" height="15.45" fill="#fbfbff" stroke="none" stroke-width="0.7"/>
<rect x="276.18" y="760.60" width="9.65" height="15.45" fill="#fbfbff" stroke="none" stroke-width="0.7"/>
<rect x="285.79" y="760.60" width="9.65" height="15.45" fill="#fbfbff" stroke="none" stroke-width="0.7"/>
<rect x="295.39" y="760.60" width="9.65" height="15.45" fill="#fbfbff" stroke="none" stroke-width="0.7"/>
<rect x="305.00" y="760.60" width="9.65" height="15.45" fill="#fbfbff" stroke="none" stroke-width="0.7"/>
<rect x="103.30" y="776.00" width="9.65" height="15.45" fill="#fbfbff" stroke="none" stroke-width="0.7"/>
<rect x="112.90" y="776.00" width="9.65" height="15.45" fill="#fdfdff" stroke="none" stroke-width="0.7"/>
<rect x="122.51" y="776.00" width="9.65" height="15.45" fill="#fdfdff" stroke="none" stroke-width="0.7"/>
<rect x="132.11" y="776.00" width="9.65" height="15.45" fill="#fbfbff" stroke="none" stroke-width="0.7"/>
<rect x="141.72" y="776.00" width="9.65" height="15.45" fill="#fbfbff" stroke="none" stroke-width="0.7"/>
<rect x="151.32" y="776.00" width="9.65" height="15.45" fill="#fbfbff" stroke="none" stroke-width="0.7"/>
<rect x="160.93" y="776.00" width="9.65" height="15.45" fill="#fbfbff" stroke="none" stroke-width="0.7"/>
<rect x="170.53" y="776.00" width="9.65" height="15.45" fill="#fbfbff" stroke="none" stroke-width="0.7"/>
<rect x="180.14" y="776.00" width="9.65" height="15.45" fill="#fbfbff" stroke="none" stroke-width="0.7"/>
<rect x="189.74" y="776.00" width="9.65" height="15.45" fill="#fbfbff" stroke="none" stroke-width="0.7"/>
<rect x="199.35" y="776.00" width="9.65" height="15.45" fill="#fbfbff" stroke="none" stroke-width="0.7"/>
<rect x="208.95" y="776.00" width="9.65" height="15.45" fill="#fbfbff" stroke="none" stroke-width="0.7"/>
<rect x="218.55" y="776.00" width="9.65" height="15.45" fill="#d7dbfc" stroke="none" stroke-width="0.7"/>
<rect x="228.16" y="776.00" width="9.65" height="15.45" fill="#f7f8fe" stroke="none" stroke-width="0.7"/>
<rect x="237.76" y="776.00" width="9.65" height="15.45" fill="#eff1fe" stroke="none" stroke-width="0.7"/>
<rect x="247.37" y="776.00" width="9.65" height="15.45" fill="#e7eafd" stroke="none" stroke-width="0.7"/>
<rect x="256.97" y="776.00" width="9.65" height="15.45" fill="#bfc6fa" stroke="none" stroke-width="0.7"/>
<rect x="266.58" y="776.00" width="9.65" height="15.45" fill="#eff1fe" stroke="none" stroke-width="0.7"/>
<rect x="276.18" y="776.00" width="9.65" height="15.45" fill="#b7befa" stroke="none" stroke-width="0.7"/>
<rect x="285.79" y="776.00" width="9.65" height="15.45" fill="#d7dbfc" stroke="none" stroke-width="0.7"/>
<rect x="295.39" y="776.00" width="9.65" height="15.45" fill="#c7cdfb" stroke="none" stroke-width="0.7"/>
<rect x="305.00" y="776.00" width="9.65" height="15.45" fill="#dfe2fd" stroke="none" stroke-width="0.7"/>
<rect x="103.30" y="745.20" width="211.30" height="46.20" fill="none" stroke="#666" stroke-width="0.6"/>
<text x="111.40" y="743.20" font-size="9.6" fill="#1c191a" stroke="#1c191a" stroke-width="0.3" transform="rotate(-90 111.40 743.20)">CD31</text>
<text x="121.01" y="743.20" font-size="9.6" fill="#1c191a" stroke="#1c191a" stroke-width="0.3" transform="rotate(-90 121.01 743.20)">VE-Cadherin</text>
<text x="130.61" y="743.20" font-size="9.6" fill="#1c191a" stroke="#1c191a" stroke-width="0.3" transform="rotate(-90 130.61 743.20)">CLDN5</text>
<text x="140.22" y="743.20" font-size="9.6" fill="#1c191a" stroke="#1c191a" stroke-width="0.3" transform="rotate(-90 140.22 743.20)">vWF</text>
<text x="149.82" y="743.20" font-size="9.6" fill="#1c191a" stroke="#1c191a" stroke-width="0.3" transform="rotate(-90 149.82 743.20)">VEGFR2</text>
<text x="159.43" y="743.20" font-size="9.6" fill="#1c191a" stroke="#1c191a" stroke-width="0.3" transform="rotate(-90 159.43 743.20)">FLT1</text>
<text x="169.03" y="743.20" font-size="9.6" fill="#1c191a" stroke="#1c191a" stroke-width="0.3" transform="rotate(-90 169.03 743.20)">ICAM2</text>
<text x="178.63" y="743.20" font-size="9.6" fill="#1c191a" stroke="#1c191a" stroke-width="0.3" transform="rotate(-90 178.63 743.20)">TIE1</text>
<text x="188.24" y="743.20" font-size="9.6" fill="#1c191a" stroke="#1c191a" stroke-width="0.3" transform="rotate(-90 188.24 743.20)">ERG</text>
<text x="197.84" y="743.20" font-size="9.6" fill="#1c191a" stroke="#1c191a" stroke-width="0.3" transform="rotate(-90 197.84 743.20)">TEK</text>
<text x="207.45" y="743.20" font-size="9.6" fill="#1c191a" stroke="#1c191a" stroke-width="0.3" transform="rotate(-90 207.45 743.20)">SOX17</text>
<text x="217.05" y="743.20" font-size="9.6" fill="#1c191a" stroke="#1c191a" stroke-width="0.3" transform="rotate(-90 217.05 743.20)">SOX18</text>
<text x="226.66" y="743.20" font-size="9.6" fill="#1c191a" stroke="#1c191a" stroke-width="0.3" transform="rotate(-90 226.66 743.20)">EPCAM</text>
<text x="236.26" y="743.20" font-size="9.6" fill="#1c191a" stroke="#1c191a" stroke-width="0.3" transform="rotate(-90 236.26 743.20)">CLDN6</text>
<text x="245.87" y="743.20" font-size="9.6" fill="#1c191a" stroke="#1c191a" stroke-width="0.3" transform="rotate(-90 245.87 743.20)">CDH1</text>
<text x="255.47" y="743.20" font-size="9.6" fill="#1c191a" stroke="#1c191a" stroke-width="0.3" transform="rotate(-90 255.47 743.20)">CDH3</text>
<text x="265.08" y="743.20" font-size="9.6" fill="#1c191a" stroke="#1c191a" stroke-width="0.3" transform="rotate(-90 265.08 743.20)">ESRP1</text>
<text x="274.68" y="743.20" font-size="9.6" fill="#1c191a" stroke="#1c191a" stroke-width="0.3" transform="rotate(-90 274.68 743.20)">DSG2</text>
<text x="284.28" y="743.20" font-size="9.6" fill="#1c191a" stroke="#1c191a" stroke-width="0.3" transform="rotate(-90 284.28 743.20)">ESRP2</text>
<text x="293.89" y="743.20" font-size="9.6" fill="#1c191a" stroke="#1c191a" stroke-width="0.3" transform="rotate(-90 293.89 743.20)">MPP7</text>
<text x="303.49" y="743.20" font-size="9.6" fill="#1c191a" stroke="#1c191a" stroke-width="0.3" transform="rotate(-90 303.49 743.20)">DLG3</text>
<text x="313.10" y="743.20" font-size="9.6" fill="#1c191a" stroke="#1c191a" stroke-width="0.3" transform="rotate(-90 313.10 743.20)">ACP3</text>
<line x1="218.50" y1="690.50" x2="218.50" y2="802.50" stroke="#444" stroke-width="0.6" stroke-dasharray="0.9 0.9"/>
<text x="99.60" y="756.20" font-size="9.6" text-anchor="end" fill="#1c191a" stroke="#1c191a" stroke-width="0.3">Dox-ETV2 iECs (P0)</text>
<text x="99.60" y="770.70" font-size="9.6" text-anchor="end" fill="#1c191a" stroke="#1c191a" stroke-width="0.3">BMECs</text>
<text x="99.60" y="787.00" font-size="9.6" text-anchor="end" fill="#1c191a" stroke="#1c191a" stroke-width="0.3">H-1975 (Epithelial)</text>
<text x="159.80" y="802.00" font-size="9.6" text-anchor="middle" fill="#1c191a" stroke="#1c191a" stroke-width="0.3">Endothelial markers</text>
<text x="266.50" y="802.00" font-size="9.6" text-anchor="middle" fill="#1c191a" stroke="#1c191a" stroke-width="0.3">Epithelial markers</text>
<text x="180.30" y="825.80" font-size="9.6" text-anchor="end" fill="#1c191a" stroke="#1c191a" stroke-width="0.3">Relative abundance</text>
<defs><linearGradient id="gF" x1="0" y1="0" x2="1" y2="0"><stop offset="0" stop-color="#0a32f0"/><stop offset="1" stop-color="#ffffff"/></linearGradient></defs>
<rect x="187.10" y="818.10" width="60.00" height="9.40" fill="url(#gF)" stroke="#777" stroke-width="0.5"/>
<text x="191.00" y="838.20" font-size="9.6" text-anchor="middle" fill="#1c191a" stroke="#1c191a" stroke-width="0.3">30</text>
<text x="209.40" y="838.20" font-size="9.6" text-anchor="middle" fill="#1c191a" stroke="#1c191a" stroke-width="0.3">20</text>
<text x="227.80" y="838.20" font-size="9.6" text-anchor="middle" fill="#1c191a" stroke="#1c191a" stroke-width="0.3">10</text>
<text x="246.60" y="838.20" font-size="9.6" text-anchor="middle" fill="#1c191a" stroke="#1c191a" stroke-width="0.3">0</text>
<text x="339.40" y="576.10" font-size="19.4" font-weight="bold" fill="#000">G</text>
<text x="427.70" y="562.00" font-size="9.4" text-anchor="middle" fill="#1c191a" stroke="#1c191a" stroke-width="0.3">VE-Cadherin</text>
<path d="M390.90,584.10 V668.30" stroke="#444" stroke-width="0.7" fill="none"/>
<line x1="390.55" y1="668.30" x2="450.60" y2="668.30" stroke="#111" stroke-width="0.85"/>
<line x1="388.70" y1="668.30" x2="390.90" y2="668.30" stroke="#333" stroke-width="0.7"/>
<text x="387.50" y="671.20" font-size="8.3" text-anchor="end" fill="#1c191a" stroke="#1c191a" stroke-width="0.3">0</text>
<line x1="388.70" y1="647.32" x2="390.90" y2="647.32" stroke="#333" stroke-width="0.7"/>
<text x="387.50" y="650.22" font-size="8.3" text-anchor="end" fill="#1c191a" stroke="#1c191a" stroke-width="0.3">5</text>
<line x1="388.70" y1="626.35" x2="390.90" y2="626.35" stroke="#333" stroke-width="0.7"/>
<text x="387.50" y="629.25" font-size="8.3" text-anchor="end" fill="#1c191a" stroke="#1c191a" stroke-width="0.3">10</text>
<line x1="388.70" y1="605.38" x2="390.90" y2="605.38" stroke="#333" stroke-width="0.7"/>
<text x="387.50" y="608.27" font-size="8.3" text-anchor="end" fill="#1c191a" stroke="#1c191a" stroke-width="0.3">15</text>
<line x1="388.70" y1="584.40" x2="390.90" y2="584.40" stroke="#333" stroke-width="0.7"/>
<text x="387.50" y="587.30" font-size="8.3" text-anchor="end" fill="#1c191a" stroke="#1c191a" stroke-width="0.3">20</text>
<line x1="404.50" y1="668.30" x2="404.50" y2="670.30" stroke="#333" stroke-width="0.7"/>
<line x1="421.00" y1="668.30" x2="421.00" y2="670.30" stroke="#333" stroke-width="0.7"/>
<line x1="437.30" y1="668.30" x2="437.30" y2="670.30" stroke="#333" stroke-width="0.7"/>
<path d="M398.20,667.60 Q404.00,666.80 409.80,667.60 Q404.00,668.40 398.20,667.60Z" stroke="#2a2a2a" stroke-width="0.45" fill="#888"/>
<line x1="399.36" y1="667.60" x2="408.64" y2="667.60" stroke="#444" stroke-width="0.4"/>
<circle cx="402.10" cy="667.40" r="1.2" fill="#000"/>
<circle cx="405.90" cy="667.40" r="1.2" fill="#000"/>
<path d="M421.00,603.80 C421.08,603.80 421.11,607.97 421.30,608.80 C421.50,609.63 421.64,608.98 422.50,610.20 C423.36,611.42 427.48,616.37 427.90,618.20 C428.32,620.03 425.70,622.65 425.70,624.30 C425.70,625.95 428.32,628.96 427.90,630.90 C427.48,632.84 423.36,637.94 422.50,639.20 C421.64,640.46 421.50,639.74 421.30,640.60 C421.11,641.46 421.08,645.80 421.00,645.80 C420.92,645.80 420.89,641.46 420.70,640.60 C420.50,639.74 420.36,640.46 419.50,639.20 C418.64,637.94 414.52,632.84 414.10,630.90 C413.68,628.96 416.30,625.95 416.30,624.30 C416.30,622.65 413.68,620.03 414.10,618.20 C414.52,616.37 418.64,611.42 419.50,610.20 C420.36,608.98 420.50,609.63 420.70,608.80 C420.89,607.97 420.92,603.80 421.00,603.80Z" stroke="#1e1e1e" stroke-width="0.45" fill="#3fae5f" stroke-linejoin="round"/>
<line x1="416.30" y1="624.30" x2="425.70" y2="624.30" stroke="#222" stroke-width="0.35"/>
<line x1="414.40" y1="618.20" x2="427.60" y2="618.20" stroke="#222" stroke-width="0.35"/>
<line x1="414.40" y1="630.90" x2="427.60" y2="630.90" stroke="#222" stroke-width="0.35"/>
<circle cx="421.00" cy="618.40" r="0.95" fill="#000"/>
<circle cx="421.00" cy="631.00" r="0.95" fill="#000"/>
<path d="M431.20,614.80 L435.55,613.31 L437.60,611.50 L439.65,613.31 L444.00,614.80 L439.65,616.28 L437.60,618.10 L435.55,616.28Z" stroke="#1e1e1e" stroke-width="0.45" fill="#e8503f" stroke-linejoin="round"/>
<circle cx="437.60" cy="613.70" r="0.95" fill="#000"/>
<circle cx="437.60" cy="615.90" r="0.95" fill="#000"/>
<path d="M402.20,592.40 V583.50 H436.80 V584.60" stroke="#333" stroke-width="0.6" fill="none"/>
<text x="419.70" y="585.30" font-size="12" text-anchor="middle" fill="#1c191a" stroke="#1c191a" stroke-width="0.15" >***</text>
<line x1="420.60" y1="598.50" x2="436.80" y2="598.50" stroke="#333" stroke-width="0.6"/>
<text x="429.20" y="594.70" font-size="9.4" text-anchor="middle" font-style="italic" fill="#1c191a" stroke="#1c191a" stroke-width="0.3">n.s.</text>
<text x="371.90" y="625.60" font-size="9.5" text-anchor="middle" fill="#1c191a" stroke="#1c191a" stroke-width="0.3" transform="rotate(-90 371.90 625.60)">Relative abundance</text>
<text x="514.80" y="562.00" font-size="9.4" text-anchor="middle" fill="#1c191a" stroke="#1c191a" stroke-width="0.3">CD31</text>
<path d="M478.70,584.10 V668.30" stroke="#444" stroke-width="0.7" fill="none"/>
<line x1="478.35" y1="668.30" x2="538.50" y2="668.30" stroke="#111" stroke-width="0.85"/>
<line x1="476.50" y1="668.30" x2="478.70" y2="668.30" stroke="#333" stroke-width="0.7"/>
<text x="475.30" y="671.20" font-size="8.3" text-anchor="end" fill="#1c191a" stroke="#1c191a" stroke-width="0.3">0</text>
<line x1="476.50" y1="640.33" x2="478.70" y2="640.33" stroke="#333" stroke-width="0.7"/>
<text x="475.30" y="643.23" font-size="8.3" text-anchor="end" fill="#1c191a" stroke="#1c191a" stroke-width="0.3">5</text>
<line x1="476.50" y1="612.37" x2="478.70" y2="612.37" stroke="#333" stroke-width="0.7"/>
<text x="475.30" y="615.27" font-size="8.3" text-anchor="end" fill="#1c191a" stroke="#1c191a" stroke-width="0.3">10</text>
<line x1="476.50" y1="584.40" x2="478.70" y2="584.40" stroke="#333" stroke-width="0.7"/>
<text x="475.30" y="587.30" font-size="8.3" text-anchor="end" fill="#1c191a" stroke="#1c191a" stroke-width="0.3">15</text>
<line x1="492.00" y1="668.30" x2="492.00" y2="670.30" stroke="#333" stroke-width="0.7"/>
<line x1="509.10" y1="668.30" x2="509.10" y2="670.30" stroke="#333" stroke-width="0.7"/>
<line x1="525.60" y1="668.30" x2="525.60" y2="670.30" stroke="#333" stroke-width="0.7"/>
<path d="M486.40,667.60 Q492.20,666.80 498.00,667.60 Q492.20,668.40 486.40,667.60Z" stroke="#2a2a2a" stroke-width="0.45" fill="#888"/>
<line x1="487.56" y1="667.60" x2="496.84" y2="667.60" stroke="#444" stroke-width="0.4"/>
<circle cx="490.50" cy="667.40" r="1.2" fill="#000"/>
<circle cx="493.90" cy="667.40" r="1.2" fill="#000"/>
<path d="M502.70,603.31 L507.18,602.50 L509.10,600.70 L511.02,602.50 L515.50,603.31 L513.71,605.20 L515.50,607.09 L511.02,607.90 L509.10,609.70 L507.18,607.90 L502.70,607.09 L504.49,605.20Z" stroke="#1e1e1e" stroke-width="0.45" fill="#3fae5f" stroke-linejoin="round"/>
<circle cx="509.10" cy="603.60" r="0.95" fill="#000"/>
<circle cx="509.10" cy="605.20" r="0.95" fill="#000"/>
<circle cx="509.10" cy="606.80" r="0.95" fill="#000"/>
<path d="M525.60,602.00 C525.68,602.00 525.74,604.36 525.90,604.80 C526.06,605.24 525.98,604.96 526.80,605.40 C527.62,605.84 531.49,607.29 532.20,608.20 C532.92,609.11 532.30,611.31 532.30,612.40 C532.30,613.49 532.92,615.66 532.20,616.60 C531.49,617.54 527.62,619.13 526.80,619.60 C525.98,620.07 526.06,619.78 525.90,620.20 C525.74,620.62 525.68,622.80 525.60,622.80 C525.52,622.80 525.46,620.62 525.30,620.20 C525.14,619.78 525.22,620.07 524.40,619.60 C523.58,619.13 519.72,617.54 519.00,616.60 C518.28,615.66 518.90,613.49 518.90,612.40 C518.90,611.31 518.28,609.11 519.00,608.20 C519.72,607.29 523.58,605.84 524.40,605.40 C525.22,604.96 525.14,605.24 525.30,604.80 C525.46,604.36 525.52,602.00 525.60,602.00Z" stroke="#1e1e1e" stroke-width="0.45" fill="#e8503f" stroke-linejoin="round"/>
<line x1="519.20" y1="608.20" x2="532.00" y2="608.20" stroke="#222" stroke-width="0.35"/>
<line x1="519.00" y1="612.40" x2="532.20" y2="612.40" stroke="#222" stroke-width="0.35"/>
<line x1="519.20" y1="616.50" x2="532.00" y2="616.50" stroke="#222" stroke-width="0.35"/>
<circle cx="525.60" cy="608.20" r="0.95" fill="#000"/>
<circle cx="525.60" cy="612.40" r="0.95" fill="#000"/>
<circle cx="525.60" cy="616.50" r="0.95" fill="#000"/>
<path d="M491.60,586.70 V577.60 H526.20 V578.80" stroke="#333" stroke-width="0.6" fill="none"/>
<text x="509.10" y="579.60" font-size="12" text-anchor="middle" fill="#1c191a" stroke="#1c191a" stroke-width="0.15" >***</text>
<line x1="509.50" y1="592.40" x2="526.20" y2="592.40" stroke="#333" stroke-width="0.6"/>
<text x="518.60" y="589.00" font-size="9.4" text-anchor="middle" font-style="italic" fill="#1c191a" stroke="#1c191a" stroke-width="0.3">n.s.</text>
<text x="597.70" y="562.00" font-size="9.4" text-anchor="middle" fill="#1c191a" stroke="#1c191a" stroke-width="0.3">vWF</text>
<path d="M566.40,584.10 V668.30" stroke="#444" stroke-width="0.7" fill="none"/>
<line x1="566.05" y1="668.30" x2="626.20" y2="668.30" stroke="#111" stroke-width="0.85"/>
<line x1="564.20" y1="668.30" x2="566.40" y2="668.30" stroke="#333" stroke-width="0.7"/>
<text x="563.00" y="671.20" font-size="8.3" text-anchor="end" fill="#1c191a" stroke="#1c191a" stroke-width="0.3">0</text>
<line x1="564.20" y1="647.32" x2="566.40" y2="647.32" stroke="#333" stroke-width="0.7"/>
<text x="563.00" y="650.22" font-size="8.3" text-anchor="end" fill="#1c191a" stroke="#1c191a" stroke-width="0.3">10</text>
<line x1="564.20" y1="626.35" x2="566.40" y2="626.35" stroke="#333" stroke-width="0.7"/>
<text x="563.00" y="629.25" font-size="8.3" text-anchor="end" fill="#1c191a" stroke="#1c191a" stroke-width="0.3">20</text>
<line x1="564.20" y1="605.38" x2="566.40" y2="605.38" stroke="#333" stroke-width="0.7"/>
<text x="563.00" y="608.27" font-size="8.3" text-anchor="end" fill="#1c191a" stroke="#1c191a" stroke-width="0.3">30</text>
<line x1="564.20" y1="584.40" x2="566.40" y2="584.40" stroke="#333" stroke-width="0.7"/>
<text x="563.00" y="587.30" font-size="8.3" text-anchor="end" fill="#1c191a" stroke="#1c191a" stroke-width="0.3">40</text>
<line x1="579.50" y1="668.30" x2="579.50" y2="670.30" stroke="#333" stroke-width="0.7"/>
<line x1="596.40" y1="668.30" x2="596.40" y2="670.30" stroke="#333" stroke-width="0.7"/>
<line x1="612.90" y1="668.30" x2="612.90" y2="670.30" stroke="#333" stroke-width="0.7"/>
<path d="M573.70,667.60 Q579.50,666.80 585.30,667.60 Q579.50,668.40 573.70,667.60Z" stroke="#2a2a2a" stroke-width="0.45" fill="#888"/>
<line x1="574.86" y1="667.60" x2="584.14" y2="667.60" stroke="#444" stroke-width="0.4"/>
<circle cx="577.80" cy="667.40" r="1.2" fill="#000"/>
<circle cx="581.20" cy="667.40" r="1.2" fill="#000"/>
<path d="M590.00,599.80 L594.35,598.94 L596.40,597.90 L598.45,598.94 L602.80,599.80 L598.45,600.65 L596.40,601.70 L594.35,600.65Z" stroke="#1e1e1e" stroke-width="0.45" fill="#3fae5f" stroke-linejoin="round"/>
<circle cx="594.90" cy="599.80" r="0.95" fill="#000"/>
<circle cx="596.90" cy="599.50" r="0.95" fill="#000"/>
<circle cx="598.60" cy="599.90" r="0.95" fill="#000"/>
<path d="M606.90,667.00 L610.98,666.46 L612.90,665.80 L614.82,666.46 L618.90,667.00 L614.82,667.54 L612.90,668.20 L610.98,667.54Z" stroke="#1e1e1e" stroke-width="0.45" fill="#e8503f" stroke-linejoin="round"/>
<circle cx="610.70" cy="667.00" r="0.95" fill="#000"/>
<circle cx="612.90" cy="666.80" r="0.95" fill="#000"/>
<circle cx="615.10" cy="667.00" r="0.95" fill="#000"/>
<path d="M579.10,587.70 V578.20 H612.90 V579.50" stroke="#333" stroke-width="0.6" fill="none"/>
<text x="595.80" y="575.40" font-size="9.4" text-anchor="middle" font-style="italic" fill="#1c191a" stroke="#1c191a" stroke-width="0.3">n.s.</text>
<line x1="596.70" y1="591.30" x2="613.40" y2="591.30" stroke="#333" stroke-width="0.6"/>
<text x="604.90" y="591.90" font-size="12" text-anchor="middle" fill="#1c191a" stroke="#1c191a" stroke-width="0.15" >***</text>
<text x="428.60" y="695.20" font-size="9.4" text-anchor="middle" fill="#1c191a" stroke="#1c191a" stroke-width="0.3">VEGFR2</text>
<path d="M391.00,712.40 V795.80" stroke="#444" stroke-width="0.7" fill="none"/>
<line x1="390.65" y1="795.80" x2="450.80" y2="795.80" stroke="#111" stroke-width="0.85"/>
<line x1="388.80" y1="795.80" x2="391.00" y2="795.80" stroke="#333" stroke-width="0.7"/>
<text x="387.60" y="798.70" font-size="8.3" text-anchor="end" fill="#1c191a" stroke="#1c191a" stroke-width="0.3">0</text>
<line x1="388.80" y1="779.18" x2="391.00" y2="779.18" stroke="#333" stroke-width="0.7"/>
<text x="387.60" y="782.08" font-size="8.3" text-anchor="end" fill="#1c191a" stroke="#1c191a" stroke-width="0.3">5</text>
<line x1="388.80" y1="762.56" x2="391.00" y2="762.56" stroke="#333" stroke-width="0.7"/>
<text x="387.60" y="765.46" font-size="8.3" text-anchor="end" fill="#1c191a" stroke="#1c191a" stroke-width="0.3">10</text>
<line x1="388.80" y1="745.94" x2="391.00" y2="745.94" stroke="#333" stroke-width="0.7"/>
<text x="387.60" y="748.84" font-size="8.3" text-anchor="end" fill="#1c191a" stroke="#1c191a" stroke-width="0.3">15</text>
<line x1="388.80" y1="729.32" x2="391.00" y2="729.32" stroke="#333" stroke-width="0.7"/>
<text x="387.60" y="732.22" font-size="8.3" text-anchor="end" fill="#1c191a" stroke="#1c191a" stroke-width="0.3">20</text>
<line x1="388.80" y1="712.70" x2="391.00" y2="712.70" stroke="#333" stroke-width="0.7"/>
<text x="387.60" y="715.60" font-size="8.3" text-anchor="end" fill="#1c191a" stroke="#1c191a" stroke-width="0.3">25</text>
<line x1="403.80" y1="795.80" x2="403.80" y2="797.80" stroke="#333" stroke-width="0.7"/>
<line x1="421.20" y1="795.80" x2="421.20" y2="797.80" stroke="#333" stroke-width="0.7"/>
<line x1="437.80" y1="795.80" x2="437.80" y2="797.80" stroke="#333" stroke-width="0.7"/>
<path d="M398.00,793.70 Q403.80,793.06 409.60,793.70 Q403.80,794.34 398.00,793.70Z" stroke="#2a2a2a" stroke-width="0.45" fill="#888"/>
<line x1="399.16" y1="793.70" x2="408.44" y2="793.70" stroke="#444" stroke-width="0.4"/>
<circle cx="401.90" cy="793.60" r="1.2" fill="#000"/>
<circle cx="405.70" cy="793.60" r="1.2" fill="#000"/>
<path d="M414.50,783.28 L419.19,782.76 L421.20,781.60 L423.21,782.76 L427.90,783.28 L426.02,784.50 L427.90,785.72 L423.21,786.24 L421.20,787.40 L419.19,786.24 L414.50,785.72 L416.38,784.50Z" stroke="#1e1e1e" stroke-width="0.45" fill="#3fae5f" stroke-linejoin="round"/>
<circle cx="421.20" cy="783.60" r="0.95" fill="#000"/>
<circle cx="421.20" cy="785.40" r="0.95" fill="#000"/>
<path d="M437.80,728.80 C437.88,728.80 437.94,730.88 438.10,731.30 C438.26,731.72 438.18,731.43 439.00,732.00 C439.82,732.57 444.35,734.67 444.40,735.70 C444.45,736.73 439.80,738.85 439.40,739.90 C439.00,740.95 441.40,742.85 441.30,743.80 C441.20,744.75 439.02,746.67 438.60,747.20 C438.18,747.73 438.20,747.42 438.10,747.90 C438.00,748.38 437.88,750.90 437.80,750.90 C437.72,750.90 437.60,748.38 437.50,747.90 C437.40,747.42 437.42,747.73 437.00,747.20 C436.58,746.67 434.40,744.75 434.30,743.80 C434.20,742.85 436.60,740.95 436.20,739.90 C435.80,738.85 431.15,736.73 431.20,735.70 C431.25,734.67 435.78,732.57 436.60,732.00 C437.42,731.43 437.34,731.72 437.50,731.30 C437.66,730.88 437.72,728.80 437.80,728.80Z" stroke="#1e1e1e" stroke-width="0.45" fill="#e8503f" stroke-linejoin="round"/>
<line x1="431.50" y1="735.70" x2="444.10" y2="735.70" stroke="#222" stroke-width="0.35"/>
<circle cx="435.70" cy="735.70" r="0.95" fill="#000"/>
<circle cx="439.90" cy="735.70" r="0.95" fill="#000"/>
<circle cx="437.80" cy="743.80" r="0.95" fill="#000"/>
<path d="M403.00,720.70 V711.20 H437.80 V712.30" stroke="#333" stroke-width="0.6" fill="none"/>
<text x="420.80" y="713.10" font-size="12" text-anchor="middle" fill="#1c191a" stroke="#1c191a" stroke-width="0.15" >***</text>
<line x1="421.20" y1="724.50" x2="437.80" y2="724.50" stroke="#333" stroke-width="0.6"/>
<text x="429.80" y="725.70" font-size="12" text-anchor="middle" fill="#1c191a" stroke="#1c191a" stroke-width="0.15" >***</text>
<text x="372.00" y="754.30" font-size="9.5" text-anchor="middle" fill="#1c191a" stroke="#1c191a" stroke-width="0.3" transform="rotate(-90 372.00 754.30)">Relative abundance</text>
<text x="406.30" y="800.00" font-size="9.4" text-anchor="end" fill="#1c191a" stroke="#1c191a" stroke-width="0.3" transform="rotate(-90 406.30 800.00)">H-1975</text>
<text x="422.60" y="800.00" font-size="9.4" text-anchor="end" fill="#1c191a" stroke="#1c191a" stroke-width="0.3" transform="rotate(-90 422.60 800.00)">BMECs</text>
<text x="439.90" y="800.00" font-size="9.4" text-anchor="end" fill="#1c191a" stroke="#1c191a" stroke-width="0.3" transform="rotate(-90 439.90 800.00)">Dox-ETV2 iECs</text>
<text x="513.40" y="695.20" font-size="9.4" text-anchor="middle" fill="#1c191a" stroke="#1c191a" stroke-width="0.3">CLDN5</text>
<path d="M479.10,712.40 V795.80" stroke="#444" stroke-width="0.7" fill="none"/>
<line x1="478.75" y1="795.80" x2="539.00" y2="795.80" stroke="#111" stroke-width="0.85"/>
<line x1="476.90" y1="795.80" x2="479.10" y2="795.80" stroke="#333" stroke-width="0.7"/>
<text x="475.70" y="798.70" font-size="8.3" text-anchor="end" fill="#1c191a" stroke="#1c191a" stroke-width="0.3">-10</text>
<line x1="476.90" y1="775.02" x2="479.10" y2="775.02" stroke="#333" stroke-width="0.7"/>
<text x="475.70" y="777.92" font-size="8.3" text-anchor="end" fill="#1c191a" stroke="#1c191a" stroke-width="0.3">0</text>
<line x1="476.90" y1="754.25" x2="479.10" y2="754.25" stroke="#333" stroke-width="0.7"/>
<text x="475.70" y="757.15" font-size="8.3" text-anchor="end" fill="#1c191a" stroke="#1c191a" stroke-width="0.3">10</text>
<line x1="476.90" y1="733.48" x2="479.10" y2="733.48" stroke="#333" stroke-width="0.7"/>
<text x="475.70" y="736.38" font-size="8.3" text-anchor="end" fill="#1c191a" stroke="#1c191a" stroke-width="0.3">20</text>
<line x1="476.90" y1="712.70" x2="479.10" y2="712.70" stroke="#333" stroke-width="0.7"/>
<text x="475.70" y="715.60" font-size="8.3" text-anchor="end" fill="#1c191a" stroke="#1c191a" stroke-width="0.3">30</text>
<line x1="491.70" y1="795.80" x2="491.70" y2="797.80" stroke="#333" stroke-width="0.7"/>
<line x1="509.00" y1="795.80" x2="509.00" y2="797.80" stroke="#333" stroke-width="0.7"/>
<line x1="525.70" y1="795.80" x2="525.70" y2="797.80" stroke="#333" stroke-width="0.7"/>
<path d="M485.00,775.20 L489.56,773.76 L491.70,772.00 L493.84,773.76 L498.40,775.20 L493.84,776.64 L491.70,778.40 L489.56,776.64Z" stroke="#1e1e1e" stroke-width="0.45" fill="#2b7bd6" stroke-linejoin="round"/>
<circle cx="490.10" cy="775.20" r="0.95" fill="#000"/>
<circle cx="493.30" cy="775.20" r="0.95" fill="#000"/>
<circle cx="491.70" cy="774.20" r="0.95" fill="#000"/>
<circle cx="491.70" cy="776.20" r="0.95" fill="#000"/>
<path d="M508.80,754.60 C508.88,754.60 508.93,756.25 509.10,756.60 C509.27,756.95 509.27,756.65 510.10,757.30 C510.93,757.95 514.91,760.69 515.50,761.60 C516.09,762.51 514.60,763.58 514.60,764.30 C514.60,765.01 516.09,766.15 515.50,767.10 C514.91,768.05 510.93,770.91 510.10,771.60 C509.27,772.29 509.27,771.97 509.10,772.40 C508.93,772.83 508.88,774.90 508.80,774.90 C508.72,774.90 508.67,772.83 508.50,772.40 C508.33,771.97 508.33,772.29 507.50,771.60 C506.67,770.91 502.69,768.05 502.10,767.10 C501.52,766.15 503.00,765.01 503.00,764.30 C503.00,763.58 501.52,762.51 502.10,761.60 C502.69,760.69 506.67,757.95 507.50,757.30 C508.33,756.65 508.33,756.95 508.50,756.60 C508.67,756.25 508.72,754.60 508.80,754.60Z" stroke="#1e1e1e" stroke-width="0.45" fill="#3fae5f" stroke-linejoin="round"/>
<line x1="502.30" y1="761.60" x2="515.30" y2="761.60" stroke="#222" stroke-width="0.35"/>
<line x1="503.00" y1="764.30" x2="514.60" y2="764.30" stroke="#222" stroke-width="0.35"/>
<line x1="502.30" y1="767.10" x2="515.30" y2="767.10" stroke="#222" stroke-width="0.35"/>
<circle cx="508.80" cy="761.60" r="0.95" fill="#000"/>
<circle cx="508.80" cy="767.10" r="0.95" fill="#000"/>
<path d="M525.50,729.20 C525.58,729.20 525.67,731.53 525.80,732.00 C525.93,732.47 526.03,732.10 526.50,732.80 C526.97,733.50 529.20,736.24 529.40,737.40 C529.60,738.56 527.65,740.43 528.00,741.70 C528.35,742.97 532.27,745.71 532.10,747.20 C531.93,748.70 527.52,752.32 526.70,753.20 C525.88,754.08 525.96,753.45 525.80,754.00 C525.64,754.55 525.58,757.40 525.50,757.40 C525.42,757.40 525.36,754.55 525.20,754.00 C525.04,753.45 525.12,754.08 524.30,753.20 C523.48,752.32 519.07,748.70 518.90,747.20 C518.73,745.71 522.65,742.97 523.00,741.70 C523.35,740.43 521.40,738.56 521.60,737.40 C521.80,736.24 524.03,733.50 524.50,732.80 C524.97,732.10 525.07,732.47 525.20,732.00 C525.33,731.53 525.42,729.20 525.50,729.20Z" stroke="#1e1e1e" stroke-width="0.45" fill="#e8503f" stroke-linejoin="round"/>
<line x1="521.70" y1="737.40" x2="529.30" y2="737.40" stroke="#222" stroke-width="0.35"/>
<line x1="519.20" y1="746.20" x2="531.80" y2="746.20" stroke="#222" stroke-width="0.35"/>
<line x1="519.20" y1="748.40" x2="531.80" y2="748.40" stroke="#222" stroke-width="0.35"/>
<circle cx="525.50" cy="737.40" r="0.95" fill="#000"/>
<circle cx="525.50" cy="746.20" r="0.95" fill="#000"/>
<circle cx="525.50" cy="748.40" r="0.95" fill="#000"/>
<path d="M491.30,720.70 V711.20 H525.70 V712.30" stroke="#333" stroke-width="0.6" fill="none"/>
<text x="508.50" y="713.10" font-size="12" text-anchor="middle" fill="#1c191a" stroke="#1c191a" stroke-width="0.15" >**</text>
<line x1="509.00" y1="724.50" x2="525.70" y2="724.50" stroke="#333" stroke-width="0.6"/>
<text x="516.90" y="725.10" font-size="12" text-anchor="middle" fill="#1c191a" stroke="#1c191a" stroke-width="0.15" >*</text>
<text x="494.00" y="800.00" font-size="9.4" text-anchor="end" fill="#1c191a" stroke="#1c191a" stroke-width="0.3" transform="rotate(-90 494.00 800.00)">H-1975</text>
<text x="510.80" y="800.00" font-size="9.4" text-anchor="end" fill="#1c191a" stroke="#1c191a" stroke-width="0.3" transform="rotate(-90 510.80 800.00)">BMECs</text>
<text x="528.00" y="800.00" font-size="9.4" text-anchor="end" fill="#1c191a" stroke="#1c191a" stroke-width="0.3" transform="rotate(-90 528.00 800.00)">Dox-ETV2 iECs</text>
<text x="595.30" y="695.20" font-size="9.4" text-anchor="middle" fill="#1c191a" stroke="#1c191a" stroke-width="0.3">EPCAM</text>
<path d="M566.10,712.40 V795.80" stroke="#444" stroke-width="0.7" fill="none"/>
<line x1="565.75" y1="795.80" x2="625.70" y2="795.80" stroke="#111" stroke-width="0.85"/>
<line x1="563.90" y1="795.80" x2="566.10" y2="795.80" stroke="#333" stroke-width="0.7"/>
<text x="562.70" y="798.70" font-size="8.3" text-anchor="end" fill="#1c191a" stroke="#1c191a" stroke-width="0.3">0</text>
<line x1="563.90" y1="768.10" x2="566.10" y2="768.10" stroke="#333" stroke-width="0.7"/>
<text x="562.70" y="771.00" font-size="8.3" text-anchor="end" fill="#1c191a" stroke="#1c191a" stroke-width="0.3">2</text>
<line x1="563.90" y1="740.40" x2="566.10" y2="740.40" stroke="#333" stroke-width="0.7"/>
<text x="562.70" y="743.30" font-size="8.3" text-anchor="end" fill="#1c191a" stroke="#1c191a" stroke-width="0.3">4</text>
<line x1="563.90" y1="712.70" x2="566.10" y2="712.70" stroke="#333" stroke-width="0.7"/>
<text x="562.70" y="715.60" font-size="8.3" text-anchor="end" fill="#1c191a" stroke="#1c191a" stroke-width="0.3">6</text>
<line x1="579.60" y1="795.80" x2="579.60" y2="797.80" stroke="#333" stroke-width="0.7"/>
<line x1="596.50" y1="795.80" x2="596.50" y2="797.80" stroke="#333" stroke-width="0.7"/>
<line x1="613.40" y1="795.80" x2="613.40" y2="797.80" stroke="#333" stroke-width="0.7"/>
<path d="M572.80,721.90 L577.42,721.00 L579.40,719.00 L581.38,721.00 L586.00,721.90 L584.15,724.00 L586.00,726.10 L581.38,727.00 L579.40,729.00 L577.42,727.00 L572.80,726.10 L574.65,724.00Z" stroke="#1e1e1e" stroke-width="0.45" fill="#2b7bd6" stroke-linejoin="round"/>
<circle cx="579.40" cy="722.40" r="0.95" fill="#000"/>
<circle cx="579.40" cy="724.00" r="0.95" fill="#000"/>
<circle cx="579.40" cy="725.60" r="0.95" fill="#000"/>
<path d="M590.70,793.10 Q596.50,792.46 602.30,793.10 Q596.50,793.74 590.70,793.10Z" stroke="#2a2a2a" stroke-width="0.45" fill="#888"/>
<line x1="591.86" y1="793.10" x2="601.14" y2="793.10" stroke="#444" stroke-width="0.4"/>
<circle cx="594.90" cy="793.00" r="1.2" fill="#000"/>
<circle cx="598.10" cy="793.00" r="1.2" fill="#000"/>
<path d="M606.60,789.60 L611.09,788.57 L613.20,787.30 L615.31,788.57 L619.80,789.60 L615.31,790.63 L613.20,791.90 L611.09,790.63Z" stroke="#1e1e1e" stroke-width="0.45" fill="#e8503f" stroke-linejoin="round"/>
<circle cx="610.90" cy="789.80" r="0.95" fill="#000"/>
<circle cx="613.20" cy="789.20" r="0.95" fill="#000"/>
<circle cx="615.50" cy="789.70" r="0.95" fill="#000"/>
<path d="M579.60,715.00 V713.80 H612.70 V723.40" stroke="#333" stroke-width="0.6" fill="none"/>
<text x="595.90" y="715.70" font-size="12" text-anchor="middle" fill="#1c191a" stroke="#1c191a" stroke-width="0.15" >***</text>
<line x1="596.60" y1="779.50" x2="613.40" y2="779.50" stroke="#333" stroke-width="0.6"/>
<text x="605.40" y="775.70" font-size="9.4" text-anchor="middle" font-style="italic" fill="#1c191a" stroke="#1c191a" stroke-width="0.3">n.s.</text>
<text x="582.00" y="800.00" font-size="9.4" text-anchor="end" fill="#1c191a" stroke="#1c191a" stroke-width="0.3" transform="rotate(-90 582.00 800.00)">H-1975</text>
<text x="598.60" y="800.00" font-size="9.4" text-anchor="end" fill="#1c191a" stroke="#1c191a" stroke-width="0.3" transform="rotate(-90 598.60 800.00)">BMECs</text>
<text x="616.00" y="800.00" font-size="9.4" text-anchor="end" fill="#1c191a" stroke="#1c191a" stroke-width="0.3" transform="rotate(-90 616.00 800.00)">Dox-ETV2 iECs</text>
</svg>
</body></html>
